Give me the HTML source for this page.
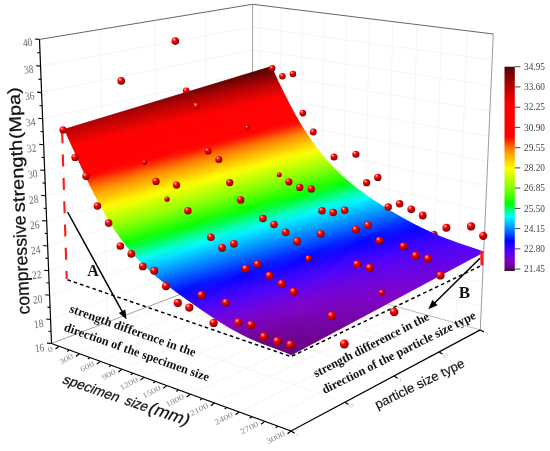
<!DOCTYPE html><html><head><meta charset="utf-8"><title>3D surface</title><style>html,body{margin:0;padding:0;background:#fff}svg{display:block}</style></head><body><svg width="550" height="451" viewBox="0 0 550 451"><defs><radialGradient id="b" cx="0.36" cy="0.32" r="0.7" fx="0.33" fy="0.28"><stop offset="0" stop-color="#ffe4dc"/><stop offset="0.17" stop-color="#ff5c4c"/><stop offset="0.42" stop-color="#f00000"/><stop offset="0.75" stop-color="#b80000"/><stop offset="1" stop-color="#640000"/></radialGradient><linearGradient id="cb" x1="0" y1="0" x2="0" y2="1"><stop offset="0.0000" stop-color="rgb(86,0,0)"/><stop offset="0.1000" stop-color="rgb(186,0,0)"/><stop offset="0.1889" stop-color="rgb(255,0,0)"/><stop offset="0.3444" stop-color="rgb(255,0,0)"/><stop offset="0.4037" stop-color="rgb(255,128,0)"/><stop offset="0.5000" stop-color="rgb(255,255,0)"/><stop offset="0.6000" stop-color="rgb(128,255,0)"/><stop offset="0.6704" stop-color="rgb(0,255,0)"/><stop offset="0.7370" stop-color="rgb(0,255,255)"/><stop offset="0.8000" stop-color="rgb(0,128,255)"/><stop offset="0.8556" stop-color="rgb(0,0,255)"/><stop offset="0.9000" stop-color="rgb(72,0,255)"/><stop offset="0.9519" stop-color="rgb(128,0,200)"/><stop offset="1.0000" stop-color="rgb(96,0,112)"/></linearGradient></defs><rect width="550" height="451" fill="#fff"/><g fill="none"><line x1="50.6" y1="319.5" x2="252.6" y2="245.8" stroke="#f1f1f1" stroke-width="0.7"/><line x1="252.6" y1="245.8" x2="481.4" y2="306.4" stroke="#f1f1f1" stroke-width="0.7"/><line x1="49.6" y1="295.2" x2="252.6" y2="224.7" stroke="#f1f1f1" stroke-width="0.7"/><line x1="252.6" y1="224.7" x2="482.4" y2="282.8" stroke="#f1f1f1" stroke-width="0.7"/><line x1="48.6" y1="270.7" x2="252.6" y2="203.5" stroke="#f1f1f1" stroke-width="0.7"/><line x1="252.6" y1="203.5" x2="483.4" y2="259" stroke="#f1f1f1" stroke-width="0.7"/><line x1="47.7" y1="246" x2="252.6" y2="182.1" stroke="#f1f1f1" stroke-width="0.7"/><line x1="252.6" y1="182.1" x2="484.5" y2="234.9" stroke="#f1f1f1" stroke-width="0.7"/><line x1="46.7" y1="221" x2="252.6" y2="160.5" stroke="#f1f1f1" stroke-width="0.7"/><line x1="252.6" y1="160.5" x2="485.6" y2="210.6" stroke="#f1f1f1" stroke-width="0.7"/><line x1="45.7" y1="195.8" x2="252.6" y2="138.7" stroke="#f1f1f1" stroke-width="0.7"/><line x1="252.6" y1="138.7" x2="486.6" y2="186.1" stroke="#f1f1f1" stroke-width="0.7"/><line x1="44.7" y1="170.4" x2="252.6" y2="116.8" stroke="#f1f1f1" stroke-width="0.7"/><line x1="252.6" y1="116.8" x2="487.7" y2="161.3" stroke="#f1f1f1" stroke-width="0.7"/><line x1="43.7" y1="144.7" x2="252.6" y2="94.6" stroke="#f1f1f1" stroke-width="0.7"/><line x1="252.6" y1="94.6" x2="488.8" y2="136.3" stroke="#f1f1f1" stroke-width="0.7"/><line x1="42.6" y1="118.8" x2="252.6" y2="72.3" stroke="#f1f1f1" stroke-width="0.7"/><line x1="252.6" y1="72.3" x2="489.9" y2="111.1" stroke="#f1f1f1" stroke-width="0.7"/><line x1="41.6" y1="92.6" x2="252.6" y2="49.8" stroke="#f1f1f1" stroke-width="0.7"/><line x1="252.6" y1="49.8" x2="491.1" y2="85.7" stroke="#f1f1f1" stroke-width="0.7"/><line x1="40.6" y1="66.1" x2="252.6" y2="27.1" stroke="#f1f1f1" stroke-width="0.7"/><line x1="252.6" y1="27.1" x2="492.2" y2="60" stroke="#f1f1f1" stroke-width="0.7"/><line x1="107.8" y1="322" x2="99.5" y2="29.5" stroke="#f1f1f1" stroke-width="0.7"/><line x1="107.8" y1="322" x2="344.9" y2="402.2" stroke="#f1f1f1" stroke-width="0.7"/><line x1="159.8" y1="302.2" x2="154.7" y2="20.4" stroke="#f1f1f1" stroke-width="0.7"/><line x1="159.8" y1="302.2" x2="394" y2="376" stroke="#f1f1f1" stroke-width="0.7"/><line x1="207.9" y1="283.8" x2="205.5" y2="12" stroke="#f1f1f1" stroke-width="0.7"/><line x1="207.9" y1="283.8" x2="439" y2="351.9" stroke="#f1f1f1" stroke-width="0.7"/><line x1="259.9" y1="268.7" x2="260.2" y2="5.2" stroke="#f1f1f1" stroke-width="0.7"/><line x1="59" y1="346.2" x2="259.9" y2="268.7" stroke="#f1f1f1" stroke-width="0.7"/><line x1="279.7" y1="274.2" x2="281" y2="7.8" stroke="#f1f1f1" stroke-width="0.7"/><line x1="79.4" y1="353.7" x2="279.7" y2="274.2" stroke="#f1f1f1" stroke-width="0.7"/><line x1="299.9" y1="279.8" x2="302.3" y2="10.4" stroke="#f1f1f1" stroke-width="0.7"/><line x1="100.3" y1="361.3" x2="299.9" y2="279.8" stroke="#f1f1f1" stroke-width="0.7"/><line x1="320.6" y1="285.6" x2="324.1" y2="13.1" stroke="#f1f1f1" stroke-width="0.7"/><line x1="121.9" y1="369.2" x2="320.6" y2="285.6" stroke="#f1f1f1" stroke-width="0.7"/><line x1="341.8" y1="291.4" x2="346.4" y2="15.9" stroke="#f1f1f1" stroke-width="0.7"/><line x1="144" y1="377.3" x2="341.8" y2="291.4" stroke="#f1f1f1" stroke-width="0.7"/><line x1="363.5" y1="297.4" x2="369.4" y2="18.7" stroke="#f1f1f1" stroke-width="0.7"/><line x1="166.8" y1="385.6" x2="363.5" y2="297.4" stroke="#f1f1f1" stroke-width="0.7"/><line x1="385.7" y1="303.6" x2="392.9" y2="21.6" stroke="#f1f1f1" stroke-width="0.7"/><line x1="190.2" y1="394.2" x2="385.7" y2="303.6" stroke="#f1f1f1" stroke-width="0.7"/><line x1="408.5" y1="309.9" x2="417" y2="24.6" stroke="#f1f1f1" stroke-width="0.7"/><line x1="214.3" y1="403" x2="408.5" y2="309.9" stroke="#f1f1f1" stroke-width="0.7"/><line x1="431.8" y1="316.4" x2="441.8" y2="27.7" stroke="#f1f1f1" stroke-width="0.7"/><line x1="239.1" y1="412" x2="431.8" y2="316.4" stroke="#f1f1f1" stroke-width="0.7"/><line x1="455.8" y1="323" x2="467.2" y2="30.8" stroke="#f1f1f1" stroke-width="0.7"/><line x1="264.7" y1="421.4" x2="455.8" y2="323" stroke="#f1f1f1" stroke-width="0.7"/><line x1="39.5" y1="39.4" x2="252.6" y2="4.3" stroke="#555" stroke-width="0.9"/><line x1="252.6" y1="4.3" x2="493.3" y2="34" stroke="#555" stroke-width="0.9"/><line x1="493.3" y1="34" x2="480.3" y2="329.9" stroke="#8a8a8a" stroke-width="0.85"/><line x1="252.6" y1="4.3" x2="252.6" y2="266.7" stroke="#9a9a9a" stroke-width="0.9"/><line x1="51.5" y1="343.5" x2="252.6" y2="266.7" stroke="#8a8a8a" stroke-width="0.8"/><line x1="252.6" y1="266.7" x2="480.3" y2="329.9" stroke="#a8a8a8" stroke-width="0.8"/></g><circle cx="434" cy="234.3" r="3.6" fill="url(#b)"/><defs><linearGradient id="s0" gradientUnits="userSpaceOnUse" x1="64.8" y1="130.3" x2="271.7" y2="67.5"><stop offset="0.000" stop-color="#b90000"/><stop offset="0.281" stop-color="#a10000"/><stop offset="0.540" stop-color="#840000"/><stop offset="0.779" stop-color="#680000"/><stop offset="1.000" stop-color="#500000"/></linearGradient><linearGradient id="s1" gradientUnits="userSpaceOnUse" x1="65.7" y1="132.2" x2="272.6" y2="69.4"><stop offset="0.000" stop-color="#c20000"/><stop offset="0.281" stop-color="#ae0000"/><stop offset="0.540" stop-color="#920000"/><stop offset="0.779" stop-color="#750000"/><stop offset="1.000" stop-color="#590000"/></linearGradient><linearGradient id="s2" gradientUnits="userSpaceOnUse" x1="66.6" y1="134.2" x2="273.4" y2="71.2"><stop offset="0.000" stop-color="#ca0000"/><stop offset="0.281" stop-color="#b80000"/><stop offset="0.540" stop-color="#9f0000"/><stop offset="0.779" stop-color="#830000"/><stop offset="1.000" stop-color="#670000"/></linearGradient><linearGradient id="s3" gradientUnits="userSpaceOnUse" x1="67.5" y1="136.2" x2="274.2" y2="73"><stop offset="0.000" stop-color="#d30000"/><stop offset="0.281" stop-color="#c10000"/><stop offset="0.540" stop-color="#ac0000"/><stop offset="0.779" stop-color="#910000"/><stop offset="1.000" stop-color="#750000"/></linearGradient><linearGradient id="s4" gradientUnits="userSpaceOnUse" x1="68.5" y1="138.2" x2="275.1" y2="74.9"><stop offset="0.000" stop-color="#dc0000"/><stop offset="0.281" stop-color="#ca0000"/><stop offset="0.540" stop-color="#b70000"/><stop offset="0.779" stop-color="#9e0000"/><stop offset="1.000" stop-color="#830000"/></linearGradient><linearGradient id="s5" gradientUnits="userSpaceOnUse" x1="69.4" y1="140.3" x2="275.9" y2="76.7"><stop offset="0.000" stop-color="#e50000"/><stop offset="0.281" stop-color="#d30000"/><stop offset="0.540" stop-color="#c00000"/><stop offset="0.779" stop-color="#ac0000"/><stop offset="1.000" stop-color="#910000"/></linearGradient><linearGradient id="s6" gradientUnits="userSpaceOnUse" x1="70.3" y1="142.3" x2="276.8" y2="78.5"><stop offset="0.000" stop-color="#ee0000"/><stop offset="0.281" stop-color="#dc0000"/><stop offset="0.540" stop-color="#ca0000"/><stop offset="0.779" stop-color="#b70000"/><stop offset="1.000" stop-color="#9f0000"/></linearGradient><linearGradient id="s7" gradientUnits="userSpaceOnUse" x1="71.3" y1="144.4" x2="277.6" y2="80.3"><stop offset="0.000" stop-color="#f70000"/><stop offset="0.281" stop-color="#e50000"/><stop offset="0.540" stop-color="#d30000"/><stop offset="0.779" stop-color="#c00000"/><stop offset="1.000" stop-color="#ac0000"/></linearGradient><linearGradient id="s8" gradientUnits="userSpaceOnUse" x1="72.2" y1="146.4" x2="278.4" y2="82.1"><stop offset="0.000" stop-color="#ff0000"/><stop offset="0.281" stop-color="#ee0000"/><stop offset="0.540" stop-color="#dc0000"/><stop offset="0.779" stop-color="#ca0000"/><stop offset="1.000" stop-color="#b70000"/></linearGradient><linearGradient id="s9" gradientUnits="userSpaceOnUse" x1="73.1" y1="148.5" x2="279.3" y2="83.8"><stop offset="0.000" stop-color="#ff0000"/><stop offset="0.281" stop-color="#f70000"/><stop offset="0.540" stop-color="#e50000"/><stop offset="0.779" stop-color="#d30000"/><stop offset="1.000" stop-color="#c10000"/></linearGradient><linearGradient id="s10" gradientUnits="userSpaceOnUse" x1="74.1" y1="150.5" x2="280.1" y2="85.6"><stop offset="0.000" stop-color="#ff0000"/><stop offset="0.281" stop-color="#ff0000"/><stop offset="0.540" stop-color="#ee0000"/><stop offset="0.779" stop-color="#dc0000"/><stop offset="1.000" stop-color="#ca0000"/></linearGradient><linearGradient id="s11" gradientUnits="userSpaceOnUse" x1="75" y1="152.6" x2="281" y2="87.4"><stop offset="0.000" stop-color="#ff0000"/><stop offset="0.281" stop-color="#ff0000"/><stop offset="0.540" stop-color="#f70000"/><stop offset="0.779" stop-color="#e50000"/><stop offset="1.000" stop-color="#d30000"/></linearGradient><linearGradient id="s12" gradientUnits="userSpaceOnUse" x1="75.9" y1="154.7" x2="281.8" y2="89.1"><stop offset="0.000" stop-color="#ff0000"/><stop offset="0.281" stop-color="#ff0000"/><stop offset="0.540" stop-color="#ff0000"/><stop offset="0.779" stop-color="#ee0000"/><stop offset="1.000" stop-color="#dc0000"/></linearGradient><linearGradient id="s13" gradientUnits="userSpaceOnUse" x1="76.9" y1="156.7" x2="282.7" y2="90.8"><stop offset="0.000" stop-color="#ff0000"/><stop offset="0.281" stop-color="#ff0000"/><stop offset="0.540" stop-color="#ff0000"/><stop offset="0.779" stop-color="#f70000"/><stop offset="1.000" stop-color="#e50000"/></linearGradient><linearGradient id="s14" gradientUnits="userSpaceOnUse" x1="77.8" y1="158.8" x2="283.5" y2="92.6"><stop offset="0.000" stop-color="#ff0000"/><stop offset="0.281" stop-color="#ff0000"/><stop offset="0.540" stop-color="#ff0000"/><stop offset="0.779" stop-color="#ff0000"/><stop offset="1.000" stop-color="#ee0000"/></linearGradient><linearGradient id="s15" gradientUnits="userSpaceOnUse" x1="78.8" y1="160.9" x2="284.4" y2="94.3"><stop offset="0.000" stop-color="#ff0000"/><stop offset="0.281" stop-color="#ff0000"/><stop offset="0.540" stop-color="#ff0000"/><stop offset="0.779" stop-color="#ff0000"/><stop offset="1.000" stop-color="#f70000"/></linearGradient><linearGradient id="s16" gradientUnits="userSpaceOnUse" x1="79.7" y1="162.9" x2="285.2" y2="96"><stop offset="0.000" stop-color="#ff0000"/><stop offset="0.281" stop-color="#ff0000"/><stop offset="0.540" stop-color="#ff0000"/><stop offset="0.779" stop-color="#ff0000"/><stop offset="1.000" stop-color="#ff0000"/></linearGradient><linearGradient id="s17" gradientUnits="userSpaceOnUse" x1="80.6" y1="165" x2="286" y2="97.6"><stop offset="0.000" stop-color="#ff0000"/><stop offset="0.281" stop-color="#ff0000"/><stop offset="0.540" stop-color="#ff0000"/><stop offset="0.779" stop-color="#ff0000"/><stop offset="1.000" stop-color="#ff0000"/></linearGradient><linearGradient id="s18" gradientUnits="userSpaceOnUse" x1="81.6" y1="167" x2="286.9" y2="99.3"><stop offset="0.000" stop-color="#ff0000"/><stop offset="0.281" stop-color="#ff0000"/><stop offset="0.540" stop-color="#ff0000"/><stop offset="0.779" stop-color="#ff0000"/><stop offset="1.000" stop-color="#ff0000"/></linearGradient><linearGradient id="s19" gradientUnits="userSpaceOnUse" x1="82.5" y1="169" x2="287.7" y2="101"><stop offset="0.000" stop-color="#ff0000"/><stop offset="0.281" stop-color="#ff0000"/><stop offset="0.540" stop-color="#ff0000"/><stop offset="0.779" stop-color="#ff0000"/><stop offset="1.000" stop-color="#ff0000"/></linearGradient><linearGradient id="s20" gradientUnits="userSpaceOnUse" x1="83.4" y1="171.1" x2="288.6" y2="102.6"><stop offset="0.000" stop-color="#ff0000"/><stop offset="0.281" stop-color="#ff0000"/><stop offset="0.540" stop-color="#ff0000"/><stop offset="0.779" stop-color="#ff0000"/><stop offset="1.000" stop-color="#ff0000"/></linearGradient><linearGradient id="s21" gradientUnits="userSpaceOnUse" x1="84.4" y1="173.1" x2="289.4" y2="104.2"><stop offset="0.000" stop-color="#ff0000"/><stop offset="0.282" stop-color="#ff0000"/><stop offset="0.540" stop-color="#ff0000"/><stop offset="0.779" stop-color="#ff0000"/><stop offset="1.000" stop-color="#ff0000"/></linearGradient><linearGradient id="s22" gradientUnits="userSpaceOnUse" x1="85.3" y1="175.1" x2="290.3" y2="105.8"><stop offset="0.000" stop-color="#ff0000"/><stop offset="0.282" stop-color="#ff0000"/><stop offset="0.540" stop-color="#ff0000"/><stop offset="0.779" stop-color="#ff0000"/><stop offset="1.000" stop-color="#ff0000"/></linearGradient><linearGradient id="s23" gradientUnits="userSpaceOnUse" x1="86.2" y1="177.1" x2="291.1" y2="107.4"><stop offset="0.000" stop-color="#ff0100"/><stop offset="0.282" stop-color="#ff0000"/><stop offset="0.540" stop-color="#ff0000"/><stop offset="0.779" stop-color="#ff0000"/><stop offset="1.000" stop-color="#ff0000"/></linearGradient><linearGradient id="s24" gradientUnits="userSpaceOnUse" x1="87.2" y1="179" x2="292" y2="109"><stop offset="0.000" stop-color="#ff1700"/><stop offset="0.282" stop-color="#ff0000"/><stop offset="0.540" stop-color="#ff0000"/><stop offset="0.779" stop-color="#ff0000"/><stop offset="1.000" stop-color="#ff0000"/></linearGradient><linearGradient id="s25" gradientUnits="userSpaceOnUse" x1="88.1" y1="181" x2="292.8" y2="110.6"><stop offset="0.000" stop-color="#ff2c00"/><stop offset="0.282" stop-color="#ff0000"/><stop offset="0.540" stop-color="#ff0000"/><stop offset="0.779" stop-color="#ff0000"/><stop offset="1.000" stop-color="#ff0000"/></linearGradient><linearGradient id="s26" gradientUnits="userSpaceOnUse" x1="89.1" y1="183" x2="293.7" y2="112.1"><stop offset="0.000" stop-color="#ff4100"/><stop offset="0.282" stop-color="#ff1000"/><stop offset="0.540" stop-color="#ff0000"/><stop offset="0.779" stop-color="#ff0000"/><stop offset="1.000" stop-color="#ff0000"/></linearGradient><linearGradient id="s27" gradientUnits="userSpaceOnUse" x1="90" y1="184.9" x2="294.5" y2="113.7"><stop offset="0.000" stop-color="#ff5600"/><stop offset="0.282" stop-color="#ff2500"/><stop offset="0.540" stop-color="#ff0000"/><stop offset="0.779" stop-color="#ff0000"/><stop offset="1.000" stop-color="#ff0000"/></linearGradient><linearGradient id="s28" gradientUnits="userSpaceOnUse" x1="90.9" y1="186.8" x2="295.4" y2="115.2"><stop offset="0.000" stop-color="#ff6b00"/><stop offset="0.282" stop-color="#ff3900"/><stop offset="0.540" stop-color="#ff0800"/><stop offset="0.779" stop-color="#ff0000"/><stop offset="1.000" stop-color="#ff0000"/></linearGradient><linearGradient id="s29" gradientUnits="userSpaceOnUse" x1="91.9" y1="188.7" x2="296.2" y2="116.7"><stop offset="0.000" stop-color="#ff7f00"/><stop offset="0.282" stop-color="#ff4d00"/><stop offset="0.540" stop-color="#ff1c00"/><stop offset="0.779" stop-color="#ff0000"/><stop offset="1.000" stop-color="#ff0000"/></linearGradient><linearGradient id="s30" gradientUnits="userSpaceOnUse" x1="92.8" y1="190.6" x2="297.1" y2="118.2"><stop offset="0.000" stop-color="#ff8c00"/><stop offset="0.282" stop-color="#ff6100"/><stop offset="0.540" stop-color="#ff2f00"/><stop offset="0.779" stop-color="#ff0000"/><stop offset="1.000" stop-color="#ff0000"/></linearGradient><linearGradient id="s31" gradientUnits="userSpaceOnUse" x1="93.7" y1="192.5" x2="297.9" y2="119.7"><stop offset="0.000" stop-color="#ff9800"/><stop offset="0.282" stop-color="#ff7500"/><stop offset="0.540" stop-color="#ff4300"/><stop offset="0.779" stop-color="#ff1100"/><stop offset="1.000" stop-color="#ff0000"/></linearGradient><linearGradient id="s32" gradientUnits="userSpaceOnUse" x1="94.7" y1="194.4" x2="298.8" y2="121.1"><stop offset="0.000" stop-color="#ffa400"/><stop offset="0.282" stop-color="#ff8500"/><stop offset="0.540" stop-color="#ff5600"/><stop offset="0.779" stop-color="#ff2400"/><stop offset="1.000" stop-color="#ff0000"/></linearGradient><linearGradient id="s33" gradientUnits="userSpaceOnUse" x1="95.6" y1="196.2" x2="299.6" y2="122.6"><stop offset="0.000" stop-color="#ffb000"/><stop offset="0.282" stop-color="#ff9100"/><stop offset="0.540" stop-color="#ff6900"/><stop offset="0.779" stop-color="#ff3600"/><stop offset="1.000" stop-color="#ff0400"/></linearGradient><linearGradient id="s34" gradientUnits="userSpaceOnUse" x1="96.5" y1="198" x2="300.5" y2="124"><stop offset="0.000" stop-color="#ffbc00"/><stop offset="0.282" stop-color="#ff9c00"/><stop offset="0.540" stop-color="#ff7b00"/><stop offset="0.779" stop-color="#ff4800"/><stop offset="1.000" stop-color="#ff1600"/></linearGradient><linearGradient id="s35" gradientUnits="userSpaceOnUse" x1="97.5" y1="199.8" x2="301.4" y2="125.4"><stop offset="0.000" stop-color="#ffc800"/><stop offset="0.282" stop-color="#ffa800"/><stop offset="0.540" stop-color="#ff8800"/><stop offset="0.779" stop-color="#ff5b00"/><stop offset="1.000" stop-color="#ff2800"/></linearGradient><linearGradient id="s36" gradientUnits="userSpaceOnUse" x1="98.4" y1="201.6" x2="302.2" y2="126.8"><stop offset="0.000" stop-color="#ffd300"/><stop offset="0.282" stop-color="#ffb300"/><stop offset="0.540" stop-color="#ff9300"/><stop offset="0.779" stop-color="#ff6c00"/><stop offset="1.000" stop-color="#ff3900"/></linearGradient><linearGradient id="s37" gradientUnits="userSpaceOnUse" x1="99.4" y1="203.4" x2="303.1" y2="128.2"><stop offset="0.000" stop-color="#ffdf00"/><stop offset="0.282" stop-color="#ffbe00"/><stop offset="0.540" stop-color="#ff9e00"/><stop offset="0.779" stop-color="#ff7e00"/><stop offset="1.000" stop-color="#ff4b00"/></linearGradient><linearGradient id="s38" gradientUnits="userSpaceOnUse" x1="100.3" y1="205.1" x2="303.9" y2="129.6"><stop offset="0.000" stop-color="#ffea00"/><stop offset="0.282" stop-color="#ffc900"/><stop offset="0.540" stop-color="#ffa900"/><stop offset="0.779" stop-color="#ff8900"/><stop offset="1.000" stop-color="#ff5c00"/></linearGradient><linearGradient id="s39" gradientUnits="userSpaceOnUse" x1="101.2" y1="206.8" x2="304.8" y2="130.9"><stop offset="0.000" stop-color="#fff500"/><stop offset="0.282" stop-color="#ffd400"/><stop offset="0.540" stop-color="#ffb400"/><stop offset="0.779" stop-color="#ff9400"/><stop offset="1.000" stop-color="#ff6c00"/></linearGradient><linearGradient id="s40" gradientUnits="userSpaceOnUse" x1="102.2" y1="208.5" x2="305.6" y2="132.3"><stop offset="0.000" stop-color="#feff00"/><stop offset="0.282" stop-color="#ffdf00"/><stop offset="0.540" stop-color="#ffbf00"/><stop offset="0.779" stop-color="#ff9e00"/><stop offset="1.000" stop-color="#ff7d00"/></linearGradient><linearGradient id="s41" gradientUnits="userSpaceOnUse" x1="103.1" y1="210.2" x2="306.5" y2="133.6"><stop offset="0.000" stop-color="#f4ff00"/><stop offset="0.282" stop-color="#ffea00"/><stop offset="0.540" stop-color="#ffc900"/><stop offset="0.779" stop-color="#ffa800"/><stop offset="1.000" stop-color="#ff8800"/></linearGradient><linearGradient id="s42" gradientUnits="userSpaceOnUse" x1="104" y1="211.9" x2="307.4" y2="134.9"><stop offset="0.000" stop-color="#e9ff00"/><stop offset="0.282" stop-color="#fff400"/><stop offset="0.540" stop-color="#ffd300"/><stop offset="0.779" stop-color="#ffb200"/><stop offset="1.000" stop-color="#ff9200"/></linearGradient><linearGradient id="s43" gradientUnits="userSpaceOnUse" x1="105" y1="213.5" x2="308.2" y2="136.2"><stop offset="0.000" stop-color="#dfff00"/><stop offset="0.282" stop-color="#fffe00"/><stop offset="0.540" stop-color="#ffdd00"/><stop offset="0.779" stop-color="#ffbc00"/><stop offset="1.000" stop-color="#ff9c00"/></linearGradient><linearGradient id="s44" gradientUnits="userSpaceOnUse" x1="105.9" y1="215.1" x2="309.1" y2="137.5"><stop offset="0.000" stop-color="#d5ff00"/><stop offset="0.282" stop-color="#f6ff00"/><stop offset="0.540" stop-color="#ffe700"/><stop offset="0.779" stop-color="#ffc600"/><stop offset="1.000" stop-color="#ffa500"/></linearGradient><linearGradient id="s45" gradientUnits="userSpaceOnUse" x1="106.8" y1="216.8" x2="309.9" y2="138.7"><stop offset="0.000" stop-color="#ccff00"/><stop offset="0.282" stop-color="#ecff00"/><stop offset="0.540" stop-color="#fff100"/><stop offset="0.779" stop-color="#ffd000"/><stop offset="1.000" stop-color="#ffaf00"/></linearGradient><linearGradient id="s46" gradientUnits="userSpaceOnUse" x1="107.8" y1="218.3" x2="310.8" y2="140"><stop offset="0.000" stop-color="#c2ff00"/><stop offset="0.282" stop-color="#e3ff00"/><stop offset="0.540" stop-color="#fffb00"/><stop offset="0.779" stop-color="#ffd900"/><stop offset="1.000" stop-color="#ffb800"/></linearGradient><linearGradient id="s47" gradientUnits="userSpaceOnUse" x1="108.7" y1="219.9" x2="311.7" y2="141.2"><stop offset="0.000" stop-color="#b9ff00"/><stop offset="0.282" stop-color="#d9ff00"/><stop offset="0.540" stop-color="#faff00"/><stop offset="0.779" stop-color="#ffe300"/><stop offset="1.000" stop-color="#ffc100"/></linearGradient><linearGradient id="s48" gradientUnits="userSpaceOnUse" x1="109.7" y1="221.4" x2="312.5" y2="142.4"><stop offset="0.000" stop-color="#afff00"/><stop offset="0.282" stop-color="#d0ff00"/><stop offset="0.540" stop-color="#f1ff00"/><stop offset="0.779" stop-color="#ffec00"/><stop offset="1.000" stop-color="#ffca00"/></linearGradient><linearGradient id="s49" gradientUnits="userSpaceOnUse" x1="110.6" y1="223" x2="313.4" y2="143.7"><stop offset="0.000" stop-color="#a6ff00"/><stop offset="0.282" stop-color="#c7ff00"/><stop offset="0.540" stop-color="#e8ff00"/><stop offset="0.779" stop-color="#fff500"/><stop offset="1.000" stop-color="#ffd300"/></linearGradient><linearGradient id="s50" gradientUnits="userSpaceOnUse" x1="111.5" y1="224.5" x2="314.3" y2="144.8"><stop offset="0.000" stop-color="#9dff00"/><stop offset="0.282" stop-color="#beff00"/><stop offset="0.540" stop-color="#dfff00"/><stop offset="0.779" stop-color="#fffe00"/><stop offset="1.000" stop-color="#ffdc00"/></linearGradient><linearGradient id="s51" gradientUnits="userSpaceOnUse" x1="112.5" y1="225.9" x2="315.1" y2="146"><stop offset="0.000" stop-color="#94ff00"/><stop offset="0.282" stop-color="#b6ff00"/><stop offset="0.540" stop-color="#d7ff00"/><stop offset="0.779" stop-color="#f8ff00"/><stop offset="1.000" stop-color="#ffe400"/></linearGradient><linearGradient id="s52" gradientUnits="userSpaceOnUse" x1="113.4" y1="227.4" x2="316" y2="147.2"><stop offset="0.000" stop-color="#8cff00"/><stop offset="0.282" stop-color="#adff00"/><stop offset="0.540" stop-color="#ceff00"/><stop offset="0.779" stop-color="#efff00"/><stop offset="1.000" stop-color="#ffed00"/></linearGradient><linearGradient id="s53" gradientUnits="userSpaceOnUse" x1="114.3" y1="228.8" x2="316.9" y2="148.3"><stop offset="0.000" stop-color="#83ff00"/><stop offset="0.282" stop-color="#a5ff00"/><stop offset="0.540" stop-color="#c6ff00"/><stop offset="0.779" stop-color="#e7ff00"/><stop offset="1.000" stop-color="#fff500"/></linearGradient><linearGradient id="s54" gradientUnits="userSpaceOnUse" x1="115.3" y1="230.3" x2="317.7" y2="149.5"><stop offset="0.000" stop-color="#79ff00"/><stop offset="0.282" stop-color="#9cff00"/><stop offset="0.540" stop-color="#beff00"/><stop offset="0.779" stop-color="#dfff00"/><stop offset="1.000" stop-color="#fffe00"/></linearGradient><linearGradient id="s55" gradientUnits="userSpaceOnUse" x1="116.2" y1="231.7" x2="318.6" y2="150.6"><stop offset="0.000" stop-color="#6dff00"/><stop offset="0.282" stop-color="#94ff00"/><stop offset="0.540" stop-color="#b6ff00"/><stop offset="0.779" stop-color="#d7ff00"/><stop offset="1.000" stop-color="#f8ff00"/></linearGradient><linearGradient id="s56" gradientUnits="userSpaceOnUse" x1="117.1" y1="233" x2="319.5" y2="151.7"><stop offset="0.000" stop-color="#61ff00"/><stop offset="0.282" stop-color="#8cff00"/><stop offset="0.540" stop-color="#aeff00"/><stop offset="0.779" stop-color="#cfff00"/><stop offset="1.000" stop-color="#f1ff00"/></linearGradient><linearGradient id="s57" gradientUnits="userSpaceOnUse" x1="118.1" y1="234.4" x2="320.3" y2="152.8"><stop offset="0.000" stop-color="#56ff00"/><stop offset="0.282" stop-color="#84ff00"/><stop offset="0.540" stop-color="#a6ff00"/><stop offset="0.779" stop-color="#c8ff00"/><stop offset="1.000" stop-color="#e9ff00"/></linearGradient><linearGradient id="s58" gradientUnits="userSpaceOnUse" x1="119" y1="235.7" x2="321.2" y2="153.9"><stop offset="0.000" stop-color="#4bff00"/><stop offset="0.282" stop-color="#7bff00"/><stop offset="0.540" stop-color="#9eff00"/><stop offset="0.779" stop-color="#c0ff00"/><stop offset="1.000" stop-color="#e2ff00"/></linearGradient><linearGradient id="s59" gradientUnits="userSpaceOnUse" x1="120" y1="237.1" x2="322.1" y2="154.9"><stop offset="0.000" stop-color="#40ff00"/><stop offset="0.282" stop-color="#70ff00"/><stop offset="0.540" stop-color="#97ff00"/><stop offset="0.779" stop-color="#b9ff00"/><stop offset="1.000" stop-color="#daff00"/></linearGradient><linearGradient id="s60" gradientUnits="userSpaceOnUse" x1="120.9" y1="238.4" x2="322.9" y2="156"><stop offset="0.000" stop-color="#35ff00"/><stop offset="0.282" stop-color="#66ff00"/><stop offset="0.541" stop-color="#90ff00"/><stop offset="0.779" stop-color="#b1ff00"/><stop offset="1.000" stop-color="#d3ff00"/></linearGradient><linearGradient id="s61" gradientUnits="userSpaceOnUse" x1="121.8" y1="239.6" x2="323.8" y2="157"><stop offset="0.000" stop-color="#2bff00"/><stop offset="0.282" stop-color="#5bff00"/><stop offset="0.541" stop-color="#88ff00"/><stop offset="0.779" stop-color="#aaff00"/><stop offset="1.000" stop-color="#ccff00"/></linearGradient><linearGradient id="s62" gradientUnits="userSpaceOnUse" x1="122.8" y1="240.9" x2="324.7" y2="158.1"><stop offset="0.000" stop-color="#20ff00"/><stop offset="0.282" stop-color="#51ff00"/><stop offset="0.541" stop-color="#81ff00"/><stop offset="0.779" stop-color="#a3ff00"/><stop offset="1.000" stop-color="#c5ff00"/></linearGradient><linearGradient id="s63" gradientUnits="userSpaceOnUse" x1="123.7" y1="242.1" x2="325.6" y2="159.1"><stop offset="0.000" stop-color="#16ff00"/><stop offset="0.282" stop-color="#47ff00"/><stop offset="0.541" stop-color="#78ff00"/><stop offset="0.779" stop-color="#9cff00"/><stop offset="1.000" stop-color="#beff00"/></linearGradient><linearGradient id="s64" gradientUnits="userSpaceOnUse" x1="124.6" y1="243.4" x2="326.4" y2="160.1"><stop offset="0.000" stop-color="#0cff00"/><stop offset="0.282" stop-color="#3dff00"/><stop offset="0.541" stop-color="#6eff00"/><stop offset="0.779" stop-color="#95ff00"/><stop offset="1.000" stop-color="#b7ff00"/></linearGradient><linearGradient id="s65" gradientUnits="userSpaceOnUse" x1="125.6" y1="244.6" x2="327.3" y2="161.1"><stop offset="0.000" stop-color="#03ff00"/><stop offset="0.282" stop-color="#33ff00"/><stop offset="0.541" stop-color="#64ff00"/><stop offset="0.779" stop-color="#8eff00"/><stop offset="1.000" stop-color="#b0ff00"/></linearGradient><linearGradient id="s66" gradientUnits="userSpaceOnUse" x1="126.5" y1="245.8" x2="328.2" y2="162.1"><stop offset="0.000" stop-color="#00ff0f"/><stop offset="0.282" stop-color="#2aff00"/><stop offset="0.541" stop-color="#5bff00"/><stop offset="0.779" stop-color="#88ff00"/><stop offset="1.000" stop-color="#aaff00"/></linearGradient><linearGradient id="s67" gradientUnits="userSpaceOnUse" x1="127.5" y1="247" x2="329.1" y2="163"><stop offset="0.000" stop-color="#00ff22"/><stop offset="0.282" stop-color="#20ff00"/><stop offset="0.541" stop-color="#51ff00"/><stop offset="0.779" stop-color="#81ff00"/><stop offset="1.000" stop-color="#a3ff00"/></linearGradient><linearGradient id="s68" gradientUnits="userSpaceOnUse" x1="128.4" y1="248.1" x2="330" y2="164"><stop offset="0.000" stop-color="#00ff36"/><stop offset="0.282" stop-color="#17ff00"/><stop offset="0.541" stop-color="#48ff00"/><stop offset="0.779" stop-color="#79ff00"/><stop offset="1.000" stop-color="#9dff00"/></linearGradient><linearGradient id="s69" gradientUnits="userSpaceOnUse" x1="129.3" y1="249.3" x2="330.8" y2="164.9"><stop offset="0.000" stop-color="#00ff49"/><stop offset="0.282" stop-color="#0eff00"/><stop offset="0.541" stop-color="#3fff00"/><stop offset="0.779" stop-color="#70ff00"/><stop offset="1.000" stop-color="#97ff00"/></linearGradient><linearGradient id="s70" gradientUnits="userSpaceOnUse" x1="130.3" y1="250.4" x2="331.7" y2="165.9"><stop offset="0.000" stop-color="#00ff5b"/><stop offset="0.282" stop-color="#05ff00"/><stop offset="0.541" stop-color="#36ff00"/><stop offset="0.779" stop-color="#67ff00"/><stop offset="1.000" stop-color="#90ff00"/></linearGradient><linearGradient id="s71" gradientUnits="userSpaceOnUse" x1="131.2" y1="251.5" x2="332.6" y2="166.8"><stop offset="0.000" stop-color="#00ff6d"/><stop offset="0.282" stop-color="#00ff07"/><stop offset="0.541" stop-color="#2dff00"/><stop offset="0.779" stop-color="#5eff00"/><stop offset="1.000" stop-color="#8aff00"/></linearGradient><linearGradient id="s72" gradientUnits="userSpaceOnUse" x1="132.2" y1="252.6" x2="333.5" y2="167.7"><stop offset="0.000" stop-color="#00ff7f"/><stop offset="0.282" stop-color="#00ff19"/><stop offset="0.541" stop-color="#25ff00"/><stop offset="0.779" stop-color="#55ff00"/><stop offset="1.000" stop-color="#84ff00"/></linearGradient><linearGradient id="s73" gradientUnits="userSpaceOnUse" x1="133.1" y1="253.7" x2="334.4" y2="168.6"><stop offset="0.000" stop-color="#00ff91"/><stop offset="0.282" stop-color="#00ff2a"/><stop offset="0.541" stop-color="#1cff00"/><stop offset="0.779" stop-color="#4dff00"/><stop offset="1.000" stop-color="#7eff00"/></linearGradient><linearGradient id="s74" gradientUnits="userSpaceOnUse" x1="134" y1="254.7" x2="335.2" y2="169.5"><stop offset="0.000" stop-color="#00ffa2"/><stop offset="0.282" stop-color="#00ff3c"/><stop offset="0.541" stop-color="#14ff00"/><stop offset="0.779" stop-color="#45ff00"/><stop offset="1.000" stop-color="#75ff00"/></linearGradient><linearGradient id="s75" gradientUnits="userSpaceOnUse" x1="135" y1="255.8" x2="336.1" y2="170.4"><stop offset="0.000" stop-color="#00ffb2"/><stop offset="0.282" stop-color="#00ff4d"/><stop offset="0.541" stop-color="#0cff00"/><stop offset="0.779" stop-color="#3cff00"/><stop offset="1.000" stop-color="#6dff00"/></linearGradient><linearGradient id="s76" gradientUnits="userSpaceOnUse" x1="135.9" y1="256.8" x2="337" y2="171.2"><stop offset="0.000" stop-color="#00ffc3"/><stop offset="0.282" stop-color="#00ff5d"/><stop offset="0.541" stop-color="#04ff00"/><stop offset="0.779" stop-color="#34ff00"/><stop offset="1.000" stop-color="#65ff00"/></linearGradient><linearGradient id="s77" gradientUnits="userSpaceOnUse" x1="136.9" y1="257.8" x2="337.9" y2="172.1"><stop offset="0.000" stop-color="#00ffd3"/><stop offset="0.282" stop-color="#00ff6e"/><stop offset="0.541" stop-color="#00ff08"/><stop offset="0.779" stop-color="#2dff00"/><stop offset="1.000" stop-color="#5dff00"/></linearGradient><linearGradient id="s78" gradientUnits="userSpaceOnUse" x1="137.8" y1="258.8" x2="338.8" y2="173"><stop offset="0.000" stop-color="#00ffe3"/><stop offset="0.282" stop-color="#00ff7e"/><stop offset="0.541" stop-color="#00ff18"/><stop offset="0.779" stop-color="#25ff00"/><stop offset="1.000" stop-color="#55ff00"/></linearGradient><linearGradient id="s79" gradientUnits="userSpaceOnUse" x1="138.8" y1="259.8" x2="339.7" y2="173.8"><stop offset="0.000" stop-color="#00fff2"/><stop offset="0.282" stop-color="#00ff8d"/><stop offset="0.541" stop-color="#00ff28"/><stop offset="0.779" stop-color="#1dff00"/><stop offset="1.000" stop-color="#4dff00"/></linearGradient><linearGradient id="s80" gradientUnits="userSpaceOnUse" x1="139.7" y1="260.8" x2="340.6" y2="174.6"><stop offset="0.000" stop-color="#00feff"/><stop offset="0.282" stop-color="#00ff9d"/><stop offset="0.541" stop-color="#00ff38"/><stop offset="0.779" stop-color="#16ff00"/><stop offset="1.000" stop-color="#46ff00"/></linearGradient><linearGradient id="s81" gradientUnits="userSpaceOnUse" x1="140.6" y1="261.8" x2="341.4" y2="175.5"><stop offset="0.000" stop-color="#00f6ff"/><stop offset="0.282" stop-color="#00ffac"/><stop offset="0.541" stop-color="#00ff47"/><stop offset="0.779" stop-color="#0eff00"/><stop offset="1.000" stop-color="#3eff00"/></linearGradient><linearGradient id="s82" gradientUnits="userSpaceOnUse" x1="141.6" y1="262.7" x2="342.3" y2="176.3"><stop offset="0.000" stop-color="#00eeff"/><stop offset="0.282" stop-color="#00ffbb"/><stop offset="0.541" stop-color="#00ff56"/><stop offset="0.779" stop-color="#07ff00"/><stop offset="1.000" stop-color="#37ff00"/></linearGradient><linearGradient id="s83" gradientUnits="userSpaceOnUse" x1="142.5" y1="263.7" x2="343.2" y2="177.1"><stop offset="0.000" stop-color="#00e7ff"/><stop offset="0.282" stop-color="#00ffc9"/><stop offset="0.541" stop-color="#00ff65"/><stop offset="0.779" stop-color="#00ff01"/><stop offset="1.000" stop-color="#2fff00"/></linearGradient><linearGradient id="s84" gradientUnits="userSpaceOnUse" x1="143.5" y1="264.6" x2="344.1" y2="177.9"><stop offset="0.000" stop-color="#00dfff"/><stop offset="0.282" stop-color="#00ffd8"/><stop offset="0.541" stop-color="#00ff74"/><stop offset="0.779" stop-color="#00ff10"/><stop offset="1.000" stop-color="#28ff00"/></linearGradient><linearGradient id="s85" gradientUnits="userSpaceOnUse" x1="144.4" y1="265.5" x2="345" y2="178.7"><stop offset="0.000" stop-color="#00d8ff"/><stop offset="0.282" stop-color="#00ffe6"/><stop offset="0.541" stop-color="#00ff82"/><stop offset="0.779" stop-color="#00ff1e"/><stop offset="1.000" stop-color="#21ff00"/></linearGradient><linearGradient id="s86" gradientUnits="userSpaceOnUse" x1="145.4" y1="266.4" x2="345.9" y2="179.5"><stop offset="0.000" stop-color="#00d1ff"/><stop offset="0.282" stop-color="#00fff3"/><stop offset="0.541" stop-color="#00ff90"/><stop offset="0.779" stop-color="#00ff2d"/><stop offset="1.000" stop-color="#1aff00"/></linearGradient><linearGradient id="s87" gradientUnits="userSpaceOnUse" x1="146.3" y1="267.3" x2="346.8" y2="180.2"><stop offset="0.000" stop-color="#00caff"/><stop offset="0.282" stop-color="#00feff"/><stop offset="0.541" stop-color="#00ff9e"/><stop offset="0.779" stop-color="#00ff3b"/><stop offset="1.000" stop-color="#13ff00"/></linearGradient><linearGradient id="s88" gradientUnits="userSpaceOnUse" x1="147.3" y1="268.2" x2="347.7" y2="181"><stop offset="0.000" stop-color="#00c3ff"/><stop offset="0.282" stop-color="#00f7ff"/><stop offset="0.541" stop-color="#00ffac"/><stop offset="0.779" stop-color="#00ff49"/><stop offset="1.000" stop-color="#0dff00"/></linearGradient><linearGradient id="s89" gradientUnits="userSpaceOnUse" x1="148.2" y1="269.1" x2="348.6" y2="181.8"><stop offset="0.000" stop-color="#00bcff"/><stop offset="0.282" stop-color="#00f0ff"/><stop offset="0.541" stop-color="#00ffb9"/><stop offset="0.779" stop-color="#00ff56"/><stop offset="1.000" stop-color="#06ff00"/></linearGradient><linearGradient id="s90" gradientUnits="userSpaceOnUse" x1="149.2" y1="269.9" x2="349.5" y2="182.5"><stop offset="0.000" stop-color="#00b5ff"/><stop offset="0.282" stop-color="#00e9ff"/><stop offset="0.541" stop-color="#00ffc6"/><stop offset="0.779" stop-color="#00ff64"/><stop offset="1.000" stop-color="#00ff02"/></linearGradient><linearGradient id="s91" gradientUnits="userSpaceOnUse" x1="150.1" y1="270.8" x2="350.4" y2="183.3"><stop offset="0.000" stop-color="#00afff"/><stop offset="0.282" stop-color="#00e2ff"/><stop offset="0.541" stop-color="#00ffd3"/><stop offset="0.779" stop-color="#00ff71"/><stop offset="1.000" stop-color="#00ff0f"/></linearGradient><linearGradient id="s92" gradientUnits="userSpaceOnUse" x1="151.1" y1="271.6" x2="351.3" y2="184"><stop offset="0.000" stop-color="#00a8ff"/><stop offset="0.282" stop-color="#00dcff"/><stop offset="0.541" stop-color="#00ffe0"/><stop offset="0.779" stop-color="#00ff7f"/><stop offset="1.000" stop-color="#00ff1d"/></linearGradient><linearGradient id="s93" gradientUnits="userSpaceOnUse" x1="152" y1="272.5" x2="352.2" y2="184.7"><stop offset="0.000" stop-color="#00a2ff"/><stop offset="0.282" stop-color="#00d5ff"/><stop offset="0.541" stop-color="#00ffed"/><stop offset="0.780" stop-color="#00ff8c"/><stop offset="1.000" stop-color="#00ff2a"/></linearGradient><linearGradient id="s94" gradientUnits="userSpaceOnUse" x1="153" y1="273.3" x2="353.1" y2="185.5"><stop offset="0.000" stop-color="#009cff"/><stop offset="0.282" stop-color="#00cfff"/><stop offset="0.541" stop-color="#00fff9"/><stop offset="0.780" stop-color="#00ff98"/><stop offset="1.000" stop-color="#00ff37"/></linearGradient><linearGradient id="s95" gradientUnits="userSpaceOnUse" x1="153.9" y1="274.1" x2="354" y2="186.2"><stop offset="0.000" stop-color="#0096ff"/><stop offset="0.282" stop-color="#00c9ff"/><stop offset="0.541" stop-color="#00fcff"/><stop offset="0.780" stop-color="#00ffa5"/><stop offset="1.000" stop-color="#00ff44"/></linearGradient><linearGradient id="s96" gradientUnits="userSpaceOnUse" x1="154.9" y1="274.9" x2="354.9" y2="186.9"><stop offset="0.000" stop-color="#0090ff"/><stop offset="0.282" stop-color="#00c2ff"/><stop offset="0.541" stop-color="#00f5ff"/><stop offset="0.780" stop-color="#00ffb1"/><stop offset="1.000" stop-color="#00ff51"/></linearGradient><linearGradient id="s97" gradientUnits="userSpaceOnUse" x1="155.9" y1="275.8" x2="355.8" y2="187.6"><stop offset="0.000" stop-color="#008aff"/><stop offset="0.282" stop-color="#00bcff"/><stop offset="0.541" stop-color="#00efff"/><stop offset="0.780" stop-color="#00ffbe"/><stop offset="1.000" stop-color="#00ff5d"/></linearGradient><linearGradient id="s98" gradientUnits="userSpaceOnUse" x1="156.8" y1="276.6" x2="356.7" y2="188.3"><stop offset="0.000" stop-color="#0084ff"/><stop offset="0.282" stop-color="#00b6ff"/><stop offset="0.541" stop-color="#00e9ff"/><stop offset="0.780" stop-color="#00ffca"/><stop offset="1.000" stop-color="#00ff6a"/></linearGradient><linearGradient id="s99" gradientUnits="userSpaceOnUse" x1="157.8" y1="277.4" x2="357.6" y2="189"><stop offset="0.000" stop-color="#007eff"/><stop offset="0.282" stop-color="#00b0ff"/><stop offset="0.541" stop-color="#00e3ff"/><stop offset="0.780" stop-color="#00ffd6"/><stop offset="1.000" stop-color="#00ff76"/></linearGradient><linearGradient id="s100" gradientUnits="userSpaceOnUse" x1="158.7" y1="278.1" x2="358.5" y2="189.7"><stop offset="0.000" stop-color="#0078ff"/><stop offset="0.282" stop-color="#00abff"/><stop offset="0.541" stop-color="#00ddff"/><stop offset="0.780" stop-color="#00ffe1"/><stop offset="1.000" stop-color="#00ff82"/></linearGradient><linearGradient id="s101" gradientUnits="userSpaceOnUse" x1="159.7" y1="278.9" x2="359.4" y2="190.4"><stop offset="0.000" stop-color="#0071ff"/><stop offset="0.282" stop-color="#00a5ff"/><stop offset="0.541" stop-color="#00d7ff"/><stop offset="0.780" stop-color="#00ffed"/><stop offset="1.000" stop-color="#00ff8e"/></linearGradient><linearGradient id="s102" gradientUnits="userSpaceOnUse" x1="160.6" y1="279.7" x2="360.3" y2="191.1"><stop offset="0.000" stop-color="#006bff"/><stop offset="0.282" stop-color="#009fff"/><stop offset="0.541" stop-color="#00d1ff"/><stop offset="0.780" stop-color="#00fff9"/><stop offset="1.000" stop-color="#00ff9a"/></linearGradient><linearGradient id="s103" gradientUnits="userSpaceOnUse" x1="161.6" y1="280.5" x2="361.2" y2="191.7"><stop offset="0.000" stop-color="#0065ff"/><stop offset="0.282" stop-color="#0099ff"/><stop offset="0.541" stop-color="#00cbff"/><stop offset="0.780" stop-color="#00fcff"/><stop offset="1.000" stop-color="#00ffa6"/></linearGradient><linearGradient id="s104" gradientUnits="userSpaceOnUse" x1="162.6" y1="281.2" x2="362.1" y2="192.4"><stop offset="0.000" stop-color="#005fff"/><stop offset="0.282" stop-color="#0094ff"/><stop offset="0.541" stop-color="#00c5ff"/><stop offset="0.780" stop-color="#00f6ff"/><stop offset="1.000" stop-color="#00ffb1"/></linearGradient><linearGradient id="s105" gradientUnits="userSpaceOnUse" x1="163.5" y1="282" x2="363" y2="193.1"><stop offset="0.000" stop-color="#0058ff"/><stop offset="0.282" stop-color="#008eff"/><stop offset="0.541" stop-color="#00bfff"/><stop offset="0.780" stop-color="#00f1ff"/><stop offset="1.000" stop-color="#00ffbd"/></linearGradient><linearGradient id="s106" gradientUnits="userSpaceOnUse" x1="164.5" y1="282.8" x2="363.9" y2="193.7"><stop offset="0.000" stop-color="#0052ff"/><stop offset="0.282" stop-color="#0089ff"/><stop offset="0.541" stop-color="#00baff"/><stop offset="0.780" stop-color="#00ebff"/><stop offset="1.000" stop-color="#00ffc8"/></linearGradient><linearGradient id="s107" gradientUnits="userSpaceOnUse" x1="165.5" y1="283.5" x2="364.8" y2="194.4"><stop offset="0.000" stop-color="#004dff"/><stop offset="0.282" stop-color="#0084ff"/><stop offset="0.541" stop-color="#00b4ff"/><stop offset="0.780" stop-color="#00e5ff"/><stop offset="1.000" stop-color="#00ffd3"/></linearGradient><linearGradient id="s108" gradientUnits="userSpaceOnUse" x1="166.4" y1="284.3" x2="365.8" y2="195"><stop offset="0.000" stop-color="#0047ff"/><stop offset="0.282" stop-color="#007eff"/><stop offset="0.541" stop-color="#00afff"/><stop offset="0.780" stop-color="#00e0ff"/><stop offset="1.000" stop-color="#00ffde"/></linearGradient><linearGradient id="s109" gradientUnits="userSpaceOnUse" x1="167.4" y1="285" x2="366.7" y2="195.7"><stop offset="0.000" stop-color="#0041ff"/><stop offset="0.282" stop-color="#0078ff"/><stop offset="0.541" stop-color="#00a9ff"/><stop offset="0.780" stop-color="#00daff"/><stop offset="1.000" stop-color="#00ffe9"/></linearGradient><linearGradient id="s110" gradientUnits="userSpaceOnUse" x1="168.4" y1="285.7" x2="367.6" y2="196.3"><stop offset="0.000" stop-color="#003bff"/><stop offset="0.282" stop-color="#0072ff"/><stop offset="0.541" stop-color="#00a4ff"/><stop offset="0.780" stop-color="#00d4ff"/><stop offset="1.000" stop-color="#00fff4"/></linearGradient><linearGradient id="s111" gradientUnits="userSpaceOnUse" x1="169.3" y1="286.5" x2="368.5" y2="196.9"><stop offset="0.000" stop-color="#0035ff"/><stop offset="0.282" stop-color="#006cff"/><stop offset="0.541" stop-color="#009fff"/><stop offset="0.780" stop-color="#00cfff"/><stop offset="1.000" stop-color="#00ffff"/></linearGradient><linearGradient id="s112" gradientUnits="userSpaceOnUse" x1="170.3" y1="287.2" x2="369.4" y2="197.6"><stop offset="0.000" stop-color="#0030ff"/><stop offset="0.282" stop-color="#0066ff"/><stop offset="0.541" stop-color="#009aff"/><stop offset="0.780" stop-color="#00caff"/><stop offset="1.000" stop-color="#00faff"/></linearGradient><linearGradient id="s113" gradientUnits="userSpaceOnUse" x1="171.3" y1="287.9" x2="370.3" y2="198.2"><stop offset="0.000" stop-color="#002aff"/><stop offset="0.282" stop-color="#0061ff"/><stop offset="0.541" stop-color="#0094ff"/><stop offset="0.780" stop-color="#00c4ff"/><stop offset="1.000" stop-color="#00f4ff"/></linearGradient><linearGradient id="s114" gradientUnits="userSpaceOnUse" x1="172.2" y1="288.7" x2="371.2" y2="198.8"><stop offset="0.000" stop-color="#0025ff"/><stop offset="0.282" stop-color="#005bff"/><stop offset="0.541" stop-color="#008fff"/><stop offset="0.780" stop-color="#00bfff"/><stop offset="1.000" stop-color="#00efff"/></linearGradient><linearGradient id="s115" gradientUnits="userSpaceOnUse" x1="173.2" y1="289.4" x2="372.2" y2="199.5"><stop offset="0.000" stop-color="#001fff"/><stop offset="0.282" stop-color="#0055ff"/><stop offset="0.541" stop-color="#008aff"/><stop offset="0.780" stop-color="#00baff"/><stop offset="1.000" stop-color="#00e9ff"/></linearGradient><linearGradient id="s116" gradientUnits="userSpaceOnUse" x1="174.2" y1="290.1" x2="373.1" y2="200.1"><stop offset="0.000" stop-color="#001aff"/><stop offset="0.282" stop-color="#0050ff"/><stop offset="0.541" stop-color="#0085ff"/><stop offset="0.780" stop-color="#00b4ff"/><stop offset="1.000" stop-color="#00e4ff"/></linearGradient><linearGradient id="s117" gradientUnits="userSpaceOnUse" x1="175.2" y1="290.8" x2="374" y2="200.7"><stop offset="0.000" stop-color="#0014ff"/><stop offset="0.282" stop-color="#004aff"/><stop offset="0.541" stop-color="#0080ff"/><stop offset="0.780" stop-color="#00afff"/><stop offset="1.000" stop-color="#00dfff"/></linearGradient><linearGradient id="s118" gradientUnits="userSpaceOnUse" x1="176.1" y1="291.5" x2="374.9" y2="201.3"><stop offset="0.000" stop-color="#000fff"/><stop offset="0.282" stop-color="#0045ff"/><stop offset="0.541" stop-color="#007aff"/><stop offset="0.780" stop-color="#00aaff"/><stop offset="1.000" stop-color="#00d9ff"/></linearGradient><linearGradient id="s119" gradientUnits="userSpaceOnUse" x1="177.1" y1="292.2" x2="375.8" y2="201.9"><stop offset="0.000" stop-color="#000aff"/><stop offset="0.282" stop-color="#003fff"/><stop offset="0.541" stop-color="#0075ff"/><stop offset="0.780" stop-color="#00a5ff"/><stop offset="1.000" stop-color="#00d4ff"/></linearGradient><linearGradient id="s120" gradientUnits="userSpaceOnUse" x1="178.1" y1="293" x2="376.8" y2="202.5"><stop offset="0.000" stop-color="#0004ff"/><stop offset="0.282" stop-color="#003aff"/><stop offset="0.542" stop-color="#006fff"/><stop offset="0.780" stop-color="#00a0ff"/><stop offset="1.000" stop-color="#00cfff"/></linearGradient><linearGradient id="s121" gradientUnits="userSpaceOnUse" x1="179.1" y1="293.7" x2="377.7" y2="203.1"><stop offset="0.000" stop-color="#0100ff"/><stop offset="0.282" stop-color="#0034ff"/><stop offset="0.542" stop-color="#006aff"/><stop offset="0.780" stop-color="#009bff"/><stop offset="1.000" stop-color="#00caff"/></linearGradient><linearGradient id="s122" gradientUnits="userSpaceOnUse" x1="180" y1="294.4" x2="378.6" y2="203.7"><stop offset="0.000" stop-color="#0400ff"/><stop offset="0.283" stop-color="#002fff"/><stop offset="0.542" stop-color="#0064ff"/><stop offset="0.780" stop-color="#0096ff"/><stop offset="1.000" stop-color="#00c5ff"/></linearGradient><linearGradient id="s123" gradientUnits="userSpaceOnUse" x1="181" y1="295.1" x2="379.5" y2="204.3"><stop offset="0.000" stop-color="#0800ff"/><stop offset="0.283" stop-color="#002aff"/><stop offset="0.542" stop-color="#005fff"/><stop offset="0.780" stop-color="#0091ff"/><stop offset="1.000" stop-color="#00c0ff"/></linearGradient><linearGradient id="s124" gradientUnits="userSpaceOnUse" x1="182" y1="295.8" x2="380.5" y2="204.9"><stop offset="0.000" stop-color="#0c00ff"/><stop offset="0.283" stop-color="#0024ff"/><stop offset="0.542" stop-color="#0059ff"/><stop offset="0.780" stop-color="#008cff"/><stop offset="1.000" stop-color="#00bbff"/></linearGradient><linearGradient id="s125" gradientUnits="userSpaceOnUse" x1="183" y1="296.5" x2="381.4" y2="205.5"><stop offset="0.000" stop-color="#0f00ff"/><stop offset="0.283" stop-color="#001fff"/><stop offset="0.542" stop-color="#0054ff"/><stop offset="0.780" stop-color="#0088ff"/><stop offset="1.000" stop-color="#00b6ff"/></linearGradient><linearGradient id="s126" gradientUnits="userSpaceOnUse" x1="184" y1="297.2" x2="382.3" y2="206.1"><stop offset="0.000" stop-color="#1300ff"/><stop offset="0.283" stop-color="#001aff"/><stop offset="0.542" stop-color="#004eff"/><stop offset="0.780" stop-color="#0083ff"/><stop offset="1.000" stop-color="#00b1ff"/></linearGradient><linearGradient id="s127" gradientUnits="userSpaceOnUse" x1="184.9" y1="297.9" x2="383.3" y2="206.7"><stop offset="0.000" stop-color="#1700ff"/><stop offset="0.283" stop-color="#0015ff"/><stop offset="0.542" stop-color="#0049ff"/><stop offset="0.780" stop-color="#007eff"/><stop offset="1.000" stop-color="#00acff"/></linearGradient><linearGradient id="s128" gradientUnits="userSpaceOnUse" x1="185.9" y1="298.6" x2="384.2" y2="207.2"><stop offset="0.000" stop-color="#1a00ff"/><stop offset="0.283" stop-color="#000fff"/><stop offset="0.542" stop-color="#0044ff"/><stop offset="0.780" stop-color="#0078ff"/><stop offset="1.000" stop-color="#00a7ff"/></linearGradient><linearGradient id="s129" gradientUnits="userSpaceOnUse" x1="186.9" y1="299.3" x2="385.1" y2="207.8"><stop offset="0.000" stop-color="#1e00ff"/><stop offset="0.283" stop-color="#000aff"/><stop offset="0.542" stop-color="#003fff"/><stop offset="0.780" stop-color="#0073ff"/><stop offset="1.000" stop-color="#00a3ff"/></linearGradient><linearGradient id="s130" gradientUnits="userSpaceOnUse" x1="187.9" y1="300" x2="386" y2="208.4"><stop offset="0.000" stop-color="#2100ff"/><stop offset="0.283" stop-color="#0005ff"/><stop offset="0.542" stop-color="#0039ff"/><stop offset="0.780" stop-color="#006eff"/><stop offset="1.000" stop-color="#009eff"/></linearGradient><linearGradient id="s131" gradientUnits="userSpaceOnUse" x1="188.9" y1="300.7" x2="387" y2="209"><stop offset="0.000" stop-color="#2500ff"/><stop offset="0.283" stop-color="#0000ff"/><stop offset="0.542" stop-color="#0034ff"/><stop offset="0.780" stop-color="#0069ff"/><stop offset="1.000" stop-color="#0099ff"/></linearGradient><linearGradient id="s132" gradientUnits="userSpaceOnUse" x1="189.9" y1="301.4" x2="387.9" y2="209.5"><stop offset="0.000" stop-color="#2800ff"/><stop offset="0.283" stop-color="#0400ff"/><stop offset="0.542" stop-color="#002fff"/><stop offset="0.780" stop-color="#0063ff"/><stop offset="1.000" stop-color="#0095ff"/></linearGradient><linearGradient id="s133" gradientUnits="userSpaceOnUse" x1="190.9" y1="302.1" x2="388.8" y2="210.1"><stop offset="0.000" stop-color="#2c00ff"/><stop offset="0.283" stop-color="#0700ff"/><stop offset="0.542" stop-color="#002aff"/><stop offset="0.780" stop-color="#005eff"/><stop offset="1.000" stop-color="#0090ff"/></linearGradient><linearGradient id="s134" gradientUnits="userSpaceOnUse" x1="191.9" y1="302.8" x2="389.8" y2="210.7"><stop offset="0.000" stop-color="#2f00ff"/><stop offset="0.283" stop-color="#0b00ff"/><stop offset="0.542" stop-color="#0025ff"/><stop offset="0.780" stop-color="#0059ff"/><stop offset="1.000" stop-color="#008bff"/></linearGradient><linearGradient id="s135" gradientUnits="userSpaceOnUse" x1="192.8" y1="303.5" x2="390.7" y2="211.2"><stop offset="0.000" stop-color="#3300ff"/><stop offset="0.283" stop-color="#0e00ff"/><stop offset="0.542" stop-color="#0020ff"/><stop offset="0.780" stop-color="#0054ff"/><stop offset="1.000" stop-color="#0087ff"/></linearGradient><linearGradient id="s136" gradientUnits="userSpaceOnUse" x1="193.8" y1="304.2" x2="391.7" y2="211.8"><stop offset="0.000" stop-color="#3600ff"/><stop offset="0.283" stop-color="#1200ff"/><stop offset="0.542" stop-color="#001bff"/><stop offset="0.780" stop-color="#004fff"/><stop offset="1.000" stop-color="#0082ff"/></linearGradient><linearGradient id="s137" gradientUnits="userSpaceOnUse" x1="194.8" y1="304.9" x2="392.6" y2="212.4"><stop offset="0.000" stop-color="#3a00ff"/><stop offset="0.283" stop-color="#1500ff"/><stop offset="0.542" stop-color="#0016ff"/><stop offset="0.780" stop-color="#004aff"/><stop offset="1.000" stop-color="#007eff"/></linearGradient><linearGradient id="s138" gradientUnits="userSpaceOnUse" x1="195.8" y1="305.6" x2="393.5" y2="212.9"><stop offset="0.000" stop-color="#3d00ff"/><stop offset="0.283" stop-color="#1900ff"/><stop offset="0.542" stop-color="#0011ff"/><stop offset="0.780" stop-color="#0045ff"/><stop offset="1.000" stop-color="#0079ff"/></linearGradient><linearGradient id="s139" gradientUnits="userSpaceOnUse" x1="196.8" y1="306.2" x2="394.5" y2="213.5"><stop offset="0.000" stop-color="#4000ff"/><stop offset="0.283" stop-color="#1c00ff"/><stop offset="0.542" stop-color="#000cff"/><stop offset="0.780" stop-color="#0040ff"/><stop offset="1.000" stop-color="#0074ff"/></linearGradient><linearGradient id="s140" gradientUnits="userSpaceOnUse" x1="197.8" y1="306.9" x2="395.4" y2="214"><stop offset="0.000" stop-color="#4400ff"/><stop offset="0.283" stop-color="#1f00ff"/><stop offset="0.542" stop-color="#0007ff"/><stop offset="0.780" stop-color="#003bff"/><stop offset="1.000" stop-color="#006fff"/></linearGradient><linearGradient id="s141" gradientUnits="userSpaceOnUse" x1="198.8" y1="307.6" x2="396.3" y2="214.6"><stop offset="0.000" stop-color="#4700ff"/><stop offset="0.283" stop-color="#2300ff"/><stop offset="0.542" stop-color="#0002ff"/><stop offset="0.780" stop-color="#0036ff"/><stop offset="1.000" stop-color="#006aff"/></linearGradient><linearGradient id="s142" gradientUnits="userSpaceOnUse" x1="199.8" y1="308.3" x2="397.3" y2="215.1"><stop offset="0.000" stop-color="#4a00fd"/><stop offset="0.283" stop-color="#2600ff"/><stop offset="0.542" stop-color="#0200ff"/><stop offset="0.780" stop-color="#0031ff"/><stop offset="1.000" stop-color="#0065ff"/></linearGradient><linearGradient id="s143" gradientUnits="userSpaceOnUse" x1="200.8" y1="309" x2="398.2" y2="215.7"><stop offset="0.000" stop-color="#4c00fb"/><stop offset="0.283" stop-color="#2a00ff"/><stop offset="0.542" stop-color="#0500ff"/><stop offset="0.780" stop-color="#002cff"/><stop offset="1.000" stop-color="#0060ff"/></linearGradient><linearGradient id="s144" gradientUnits="userSpaceOnUse" x1="201.8" y1="309.7" x2="399.2" y2="216.2"><stop offset="0.000" stop-color="#4e00f9"/><stop offset="0.283" stop-color="#2d00ff"/><stop offset="0.542" stop-color="#0800ff"/><stop offset="0.780" stop-color="#0028ff"/><stop offset="1.000" stop-color="#005bff"/></linearGradient><linearGradient id="s145" gradientUnits="userSpaceOnUse" x1="202.8" y1="310.4" x2="400.1" y2="216.7"><stop offset="0.000" stop-color="#5000f7"/><stop offset="0.283" stop-color="#3000ff"/><stop offset="0.542" stop-color="#0c00ff"/><stop offset="0.780" stop-color="#0023ff"/><stop offset="1.000" stop-color="#0057ff"/></linearGradient><linearGradient id="s146" gradientUnits="userSpaceOnUse" x1="203.8" y1="311" x2="401.1" y2="217.3"><stop offset="0.000" stop-color="#5300f5"/><stop offset="0.283" stop-color="#3300ff"/><stop offset="0.542" stop-color="#0f00ff"/><stop offset="0.780" stop-color="#001eff"/><stop offset="1.000" stop-color="#0052ff"/></linearGradient><linearGradient id="s147" gradientUnits="userSpaceOnUse" x1="204.8" y1="311.7" x2="402" y2="217.8"><stop offset="0.000" stop-color="#5500f2"/><stop offset="0.283" stop-color="#3700ff"/><stop offset="0.542" stop-color="#1200ff"/><stop offset="0.780" stop-color="#001aff"/><stop offset="1.000" stop-color="#004dff"/></linearGradient><linearGradient id="s148" gradientUnits="userSpaceOnUse" x1="205.8" y1="312.4" x2="403" y2="218.3"><stop offset="0.000" stop-color="#5700f0"/><stop offset="0.283" stop-color="#3a00ff"/><stop offset="0.542" stop-color="#1600ff"/><stop offset="0.780" stop-color="#0015ff"/><stop offset="1.000" stop-color="#0049ff"/></linearGradient><linearGradient id="s149" gradientUnits="userSpaceOnUse" x1="206.8" y1="313.1" x2="403.9" y2="218.9"><stop offset="0.000" stop-color="#5900ee"/><stop offset="0.283" stop-color="#3d00ff"/><stop offset="0.542" stop-color="#1900ff"/><stop offset="0.780" stop-color="#0010ff"/><stop offset="1.000" stop-color="#0044ff"/></linearGradient><linearGradient id="s150" gradientUnits="userSpaceOnUse" x1="207.8" y1="313.8" x2="404.9" y2="219.4"><stop offset="0.000" stop-color="#5b00ec"/><stop offset="0.283" stop-color="#4000ff"/><stop offset="0.542" stop-color="#1c00ff"/><stop offset="0.780" stop-color="#000cff"/><stop offset="1.000" stop-color="#0040ff"/></linearGradient><linearGradient id="s151" gradientUnits="userSpaceOnUse" x1="208.8" y1="314.4" x2="405.8" y2="219.9"><stop offset="0.000" stop-color="#5d00ea"/><stop offset="0.283" stop-color="#4400ff"/><stop offset="0.542" stop-color="#1f00ff"/><stop offset="0.780" stop-color="#0007ff"/><stop offset="1.000" stop-color="#003bff"/></linearGradient><linearGradient id="s152" gradientUnits="userSpaceOnUse" x1="209.9" y1="315.1" x2="406.8" y2="220.4"><stop offset="0.000" stop-color="#5f00e8"/><stop offset="0.283" stop-color="#4700ff"/><stop offset="0.542" stop-color="#2200ff"/><stop offset="0.780" stop-color="#0003ff"/><stop offset="1.000" stop-color="#0037ff"/></linearGradient><linearGradient id="s153" gradientUnits="userSpaceOnUse" x1="210.9" y1="315.8" x2="407.7" y2="221"><stop offset="0.000" stop-color="#6200e6"/><stop offset="0.283" stop-color="#4900fe"/><stop offset="0.542" stop-color="#2500ff"/><stop offset="0.780" stop-color="#0100ff"/><stop offset="1.000" stop-color="#0032ff"/></linearGradient><linearGradient id="s154" gradientUnits="userSpaceOnUse" x1="211.9" y1="316.4" x2="408.7" y2="221.5"><stop offset="0.000" stop-color="#6400e4"/><stop offset="0.283" stop-color="#4b00fc"/><stop offset="0.542" stop-color="#2800ff"/><stop offset="0.780" stop-color="#0400ff"/><stop offset="1.000" stop-color="#002eff"/></linearGradient><linearGradient id="s155" gradientUnits="userSpaceOnUse" x1="212.9" y1="317.1" x2="409.6" y2="222"><stop offset="0.000" stop-color="#6600e2"/><stop offset="0.283" stop-color="#4d00fa"/><stop offset="0.542" stop-color="#2c00ff"/><stop offset="0.780" stop-color="#0700ff"/><stop offset="1.000" stop-color="#002aff"/></linearGradient><linearGradient id="s156" gradientUnits="userSpaceOnUse" x1="213.9" y1="317.8" x2="410.6" y2="222.5"><stop offset="0.000" stop-color="#6800e0"/><stop offset="0.283" stop-color="#4f00f8"/><stop offset="0.542" stop-color="#2f00ff"/><stop offset="0.780" stop-color="#0a00ff"/><stop offset="1.000" stop-color="#0026ff"/></linearGradient><linearGradient id="s157" gradientUnits="userSpaceOnUse" x1="214.9" y1="318.4" x2="411.5" y2="223"><stop offset="0.000" stop-color="#6a00de"/><stop offset="0.283" stop-color="#5100f6"/><stop offset="0.542" stop-color="#3200ff"/><stop offset="0.780" stop-color="#0d00ff"/><stop offset="1.000" stop-color="#0021ff"/></linearGradient><linearGradient id="s158" gradientUnits="userSpaceOnUse" x1="215.9" y1="319.1" x2="412.5" y2="223.5"><stop offset="0.000" stop-color="#6c00dc"/><stop offset="0.283" stop-color="#5300f4"/><stop offset="0.542" stop-color="#3400ff"/><stop offset="0.780" stop-color="#1000ff"/><stop offset="1.000" stop-color="#001dff"/></linearGradient><linearGradient id="s159" gradientUnits="userSpaceOnUse" x1="216.9" y1="319.7" x2="413.5" y2="224"><stop offset="0.000" stop-color="#6e00da"/><stop offset="0.283" stop-color="#5500f2"/><stop offset="0.542" stop-color="#3700ff"/><stop offset="0.780" stop-color="#1300ff"/><stop offset="1.000" stop-color="#0019ff"/></linearGradient><linearGradient id="s160" gradientUnits="userSpaceOnUse" x1="218" y1="320.4" x2="414.4" y2="224.5"><stop offset="0.000" stop-color="#7000d8"/><stop offset="0.283" stop-color="#5700f0"/><stop offset="0.542" stop-color="#3a00ff"/><stop offset="0.780" stop-color="#1600ff"/><stop offset="1.000" stop-color="#0015ff"/></linearGradient><linearGradient id="s161" gradientUnits="userSpaceOnUse" x1="219" y1="321" x2="415.4" y2="225"><stop offset="0.000" stop-color="#7200d6"/><stop offset="0.283" stop-color="#5900ee"/><stop offset="0.542" stop-color="#3d00ff"/><stop offset="0.780" stop-color="#1900ff"/><stop offset="1.000" stop-color="#0011ff"/></linearGradient><linearGradient id="s162" gradientUnits="userSpaceOnUse" x1="220" y1="321.7" x2="416.3" y2="225.5"><stop offset="0.000" stop-color="#7300d4"/><stop offset="0.283" stop-color="#5b00ec"/><stop offset="0.542" stop-color="#4000ff"/><stop offset="0.780" stop-color="#1b00ff"/><stop offset="1.000" stop-color="#000dff"/></linearGradient><linearGradient id="s163" gradientUnits="userSpaceOnUse" x1="221" y1="322.3" x2="417.3" y2="226"><stop offset="0.000" stop-color="#7500d2"/><stop offset="0.283" stop-color="#5d00ea"/><stop offset="0.542" stop-color="#4300ff"/><stop offset="0.780" stop-color="#1e00ff"/><stop offset="1.000" stop-color="#0009ff"/></linearGradient><linearGradient id="s164" gradientUnits="userSpaceOnUse" x1="222" y1="323" x2="418.3" y2="226.5"><stop offset="0.000" stop-color="#7700d1"/><stop offset="0.283" stop-color="#5f00e9"/><stop offset="0.542" stop-color="#4500ff"/><stop offset="0.780" stop-color="#2100ff"/><stop offset="1.000" stop-color="#0005ff"/></linearGradient><linearGradient id="s165" gradientUnits="userSpaceOnUse" x1="223.1" y1="323.6" x2="419.2" y2="227"><stop offset="0.000" stop-color="#7900cf"/><stop offset="0.283" stop-color="#6100e7"/><stop offset="0.542" stop-color="#4800ff"/><stop offset="0.781" stop-color="#2300ff"/><stop offset="1.000" stop-color="#0002ff"/></linearGradient><linearGradient id="s166" gradientUnits="userSpaceOnUse" x1="224.1" y1="324.2" x2="420.2" y2="227.5"><stop offset="0.000" stop-color="#7b00cd"/><stop offset="0.283" stop-color="#6200e5"/><stop offset="0.542" stop-color="#4a00fd"/><stop offset="0.781" stop-color="#2600ff"/><stop offset="1.000" stop-color="#0100ff"/></linearGradient><linearGradient id="s167" gradientUnits="userSpaceOnUse" x1="225.1" y1="324.8" x2="421.2" y2="227.9"><stop offset="0.000" stop-color="#7d00cb"/><stop offset="0.283" stop-color="#6400e3"/><stop offset="0.542" stop-color="#4c00fb"/><stop offset="0.781" stop-color="#2900ff"/><stop offset="1.000" stop-color="#0400ff"/></linearGradient><linearGradient id="s168" gradientUnits="userSpaceOnUse" x1="226.1" y1="325.5" x2="422.1" y2="228.4"><stop offset="0.000" stop-color="#7e00ca"/><stop offset="0.283" stop-color="#6600e2"/><stop offset="0.542" stop-color="#4d00fa"/><stop offset="0.781" stop-color="#2b00ff"/><stop offset="1.000" stop-color="#0700ff"/></linearGradient><linearGradient id="s169" gradientUnits="userSpaceOnUse" x1="227.2" y1="326.1" x2="423.1" y2="228.9"><stop offset="0.000" stop-color="#8000c8"/><stop offset="0.283" stop-color="#6800e0"/><stop offset="0.542" stop-color="#4f00f8"/><stop offset="0.781" stop-color="#2e00ff"/><stop offset="1.000" stop-color="#0900ff"/></linearGradient><linearGradient id="s170" gradientUnits="userSpaceOnUse" x1="228.2" y1="326.7" x2="424.1" y2="229.4"><stop offset="0.000" stop-color="#7f00c5"/><stop offset="0.283" stop-color="#6900de"/><stop offset="0.542" stop-color="#5100f6"/><stop offset="0.781" stop-color="#3000ff"/><stop offset="1.000" stop-color="#0c00ff"/></linearGradient><linearGradient id="s171" gradientUnits="userSpaceOnUse" x1="229.2" y1="327.3" x2="425" y2="229.8"><stop offset="0.000" stop-color="#7e00c2"/><stop offset="0.283" stop-color="#6b00dd"/><stop offset="0.543" stop-color="#5200f5"/><stop offset="0.781" stop-color="#3300ff"/><stop offset="1.000" stop-color="#0e00ff"/></linearGradient><linearGradient id="s172" gradientUnits="userSpaceOnUse" x1="230.3" y1="327.9" x2="426" y2="230.3"><stop offset="0.000" stop-color="#7d00c0"/><stop offset="0.283" stop-color="#6c00db"/><stop offset="0.543" stop-color="#5400f3"/><stop offset="0.781" stop-color="#3500ff"/><stop offset="1.000" stop-color="#1000ff"/></linearGradient><linearGradient id="s173" gradientUnits="userSpaceOnUse" x1="231.3" y1="328.5" x2="427" y2="230.7"><stop offset="0.000" stop-color="#7c00bd"/><stop offset="0.283" stop-color="#6e00da"/><stop offset="0.543" stop-color="#5600f2"/><stop offset="0.781" stop-color="#3800ff"/><stop offset="1.000" stop-color="#1300ff"/></linearGradient><linearGradient id="s174" gradientUnits="userSpaceOnUse" x1="232.3" y1="329.1" x2="428" y2="231.2"><stop offset="0.000" stop-color="#7b00ba"/><stop offset="0.283" stop-color="#7000d8"/><stop offset="0.543" stop-color="#5700f0"/><stop offset="0.781" stop-color="#3a00ff"/><stop offset="1.000" stop-color="#1500ff"/></linearGradient><linearGradient id="s175" gradientUnits="userSpaceOnUse" x1="233.4" y1="329.7" x2="428.9" y2="231.6"><stop offset="0.000" stop-color="#7a00b8"/><stop offset="0.283" stop-color="#7100d7"/><stop offset="0.543" stop-color="#5900ef"/><stop offset="0.781" stop-color="#3c00ff"/><stop offset="1.000" stop-color="#1700ff"/></linearGradient><linearGradient id="s176" gradientUnits="userSpaceOnUse" x1="234.4" y1="330.3" x2="429.9" y2="232.1"><stop offset="0.000" stop-color="#7900b5"/><stop offset="0.283" stop-color="#7300d5"/><stop offset="0.543" stop-color="#5a00ed"/><stop offset="0.781" stop-color="#3e00ff"/><stop offset="1.000" stop-color="#1a00ff"/></linearGradient><linearGradient id="s177" gradientUnits="userSpaceOnUse" x1="235.4" y1="330.8" x2="430.9" y2="232.5"><stop offset="0.000" stop-color="#7800b3"/><stop offset="0.283" stop-color="#7400d4"/><stop offset="0.543" stop-color="#5c00ec"/><stop offset="0.781" stop-color="#4100ff"/><stop offset="1.000" stop-color="#1c00ff"/></linearGradient><linearGradient id="s178" gradientUnits="userSpaceOnUse" x1="236.5" y1="331.4" x2="431.9" y2="233"><stop offset="0.000" stop-color="#7700b0"/><stop offset="0.283" stop-color="#7500d2"/><stop offset="0.543" stop-color="#5d00ea"/><stop offset="0.781" stop-color="#4300ff"/><stop offset="1.000" stop-color="#1e00ff"/></linearGradient><linearGradient id="s179" gradientUnits="userSpaceOnUse" x1="237.5" y1="332" x2="432.8" y2="233.4"><stop offset="0.000" stop-color="#7700ae"/><stop offset="0.283" stop-color="#7700d1"/><stop offset="0.543" stop-color="#5e00e9"/><stop offset="0.781" stop-color="#4500ff"/><stop offset="1.000" stop-color="#2000ff"/></linearGradient><linearGradient id="s180" gradientUnits="userSpaceOnUse" x1="238.5" y1="332.5" x2="433.8" y2="233.8"><stop offset="0.000" stop-color="#7600ac"/><stop offset="0.283" stop-color="#7800d0"/><stop offset="0.543" stop-color="#6000e8"/><stop offset="0.781" stop-color="#4700ff"/><stop offset="1.000" stop-color="#2200ff"/></linearGradient><linearGradient id="s181" gradientUnits="userSpaceOnUse" x1="239.6" y1="333.1" x2="434.8" y2="234.3"><stop offset="0.000" stop-color="#7500aa"/><stop offset="0.283" stop-color="#7900ce"/><stop offset="0.543" stop-color="#6100e6"/><stop offset="0.781" stop-color="#4900fe"/><stop offset="1.000" stop-color="#2400ff"/></linearGradient><linearGradient id="s182" gradientUnits="userSpaceOnUse" x1="240.6" y1="333.6" x2="435.8" y2="234.7"><stop offset="0.000" stop-color="#7400a8"/><stop offset="0.283" stop-color="#7b00cd"/><stop offset="0.543" stop-color="#6200e5"/><stop offset="0.781" stop-color="#4a00fd"/><stop offset="1.000" stop-color="#2600ff"/></linearGradient><linearGradient id="s183" gradientUnits="userSpaceOnUse" x1="241.7" y1="334.1" x2="436.8" y2="235.1"><stop offset="0.000" stop-color="#7300a6"/><stop offset="0.284" stop-color="#7c00cc"/><stop offset="0.543" stop-color="#6400e4"/><stop offset="0.781" stop-color="#4b00fc"/><stop offset="1.000" stop-color="#2800ff"/></linearGradient><linearGradient id="s184" gradientUnits="userSpaceOnUse" x1="242.7" y1="334.7" x2="437.8" y2="235.5"><stop offset="0.000" stop-color="#7300a4"/><stop offset="0.284" stop-color="#7d00cb"/><stop offset="0.543" stop-color="#6500e3"/><stop offset="0.781" stop-color="#4c00fb"/><stop offset="1.000" stop-color="#2a00ff"/></linearGradient><linearGradient id="s185" gradientUnits="userSpaceOnUse" x1="243.8" y1="335.2" x2="438.7" y2="236"><stop offset="0.000" stop-color="#7200a2"/><stop offset="0.284" stop-color="#7e00ca"/><stop offset="0.543" stop-color="#6600e2"/><stop offset="0.781" stop-color="#4e00f9"/><stop offset="1.000" stop-color="#2c00ff"/></linearGradient><linearGradient id="s186" gradientUnits="userSpaceOnUse" x1="244.8" y1="335.7" x2="439.7" y2="236.4"><stop offset="0.000" stop-color="#7100a0"/><stop offset="0.284" stop-color="#7f00c9"/><stop offset="0.543" stop-color="#6700e0"/><stop offset="0.781" stop-color="#4f00f8"/><stop offset="1.000" stop-color="#2e00ff"/></linearGradient><linearGradient id="s187" gradientUnits="userSpaceOnUse" x1="245.9" y1="336.2" x2="440.7" y2="236.8"><stop offset="0.000" stop-color="#71009e"/><stop offset="0.284" stop-color="#8000c7"/><stop offset="0.543" stop-color="#6800df"/><stop offset="0.781" stop-color="#5000f7"/><stop offset="1.000" stop-color="#3000ff"/></linearGradient><linearGradient id="s188" gradientUnits="userSpaceOnUse" x1="246.9" y1="336.7" x2="441.7" y2="237.2"><stop offset="0.000" stop-color="#70009c"/><stop offset="0.284" stop-color="#7f00c5"/><stop offset="0.543" stop-color="#6900de"/><stop offset="0.781" stop-color="#5100f6"/><stop offset="1.000" stop-color="#3100ff"/></linearGradient><linearGradient id="s189" gradientUnits="userSpaceOnUse" x1="248" y1="337.2" x2="442.7" y2="237.6"><stop offset="0.000" stop-color="#70009b"/><stop offset="0.284" stop-color="#7e00c4"/><stop offset="0.543" stop-color="#6a00dd"/><stop offset="0.781" stop-color="#5200f5"/><stop offset="1.000" stop-color="#3300ff"/></linearGradient><linearGradient id="s190" gradientUnits="userSpaceOnUse" x1="249" y1="337.7" x2="443.7" y2="238"><stop offset="0.000" stop-color="#6f0099"/><stop offset="0.284" stop-color="#7e00c2"/><stop offset="0.543" stop-color="#6b00dc"/><stop offset="0.781" stop-color="#5300f4"/><stop offset="1.000" stop-color="#3500ff"/></linearGradient><linearGradient id="s191" gradientUnits="userSpaceOnUse" x1="250.1" y1="338.2" x2="444.7" y2="238.4"><stop offset="0.000" stop-color="#6e0098"/><stop offset="0.284" stop-color="#7d00c0"/><stop offset="0.543" stop-color="#6c00db"/><stop offset="0.781" stop-color="#5400f3"/><stop offset="1.000" stop-color="#3600ff"/></linearGradient><linearGradient id="s192" gradientUnits="userSpaceOnUse" x1="251.1" y1="338.7" x2="445.7" y2="238.8"><stop offset="0.000" stop-color="#6e0096"/><stop offset="0.284" stop-color="#7d00bf"/><stop offset="0.543" stop-color="#6d00da"/><stop offset="0.781" stop-color="#5500f2"/><stop offset="1.000" stop-color="#3800ff"/></linearGradient><linearGradient id="s193" gradientUnits="userSpaceOnUse" x1="252.2" y1="339.2" x2="446.7" y2="239.2"><stop offset="0.000" stop-color="#6d0095"/><stop offset="0.284" stop-color="#7c00be"/><stop offset="0.543" stop-color="#6e00d9"/><stop offset="0.781" stop-color="#5600f1"/><stop offset="1.000" stop-color="#3900ff"/></linearGradient><linearGradient id="s194" gradientUnits="userSpaceOnUse" x1="253.2" y1="339.7" x2="447.7" y2="239.5"><stop offset="0.000" stop-color="#6d0094"/><stop offset="0.284" stop-color="#7c00bc"/><stop offset="0.543" stop-color="#6f00d9"/><stop offset="0.781" stop-color="#5700f0"/><stop offset="1.000" stop-color="#3b00ff"/></linearGradient><linearGradient id="s195" gradientUnits="userSpaceOnUse" x1="254.3" y1="340.1" x2="448.7" y2="239.9"><stop offset="0.000" stop-color="#6d0092"/><stop offset="0.284" stop-color="#7b00bb"/><stop offset="0.543" stop-color="#7000d8"/><stop offset="0.781" stop-color="#5800ef"/><stop offset="1.000" stop-color="#3c00ff"/></linearGradient><linearGradient id="s196" gradientUnits="userSpaceOnUse" x1="255.3" y1="340.6" x2="449.7" y2="240.3"><stop offset="0.000" stop-color="#6c0091"/><stop offset="0.284" stop-color="#7b00ba"/><stop offset="0.543" stop-color="#7100d7"/><stop offset="0.781" stop-color="#5900ee"/><stop offset="1.000" stop-color="#3e00ff"/></linearGradient><linearGradient id="s197" gradientUnits="userSpaceOnUse" x1="256.4" y1="341" x2="450.7" y2="240.7"><stop offset="0.000" stop-color="#6c0090"/><stop offset="0.284" stop-color="#7a00b8"/><stop offset="0.543" stop-color="#7200d6"/><stop offset="0.781" stop-color="#5a00ed"/><stop offset="1.000" stop-color="#3f00ff"/></linearGradient><linearGradient id="s198" gradientUnits="userSpaceOnUse" x1="257.5" y1="341.5" x2="451.7" y2="241"><stop offset="0.000" stop-color="#6b008f"/><stop offset="0.284" stop-color="#7a00b7"/><stop offset="0.543" stop-color="#7200d5"/><stop offset="0.781" stop-color="#5b00ed"/><stop offset="1.000" stop-color="#4100ff"/></linearGradient><linearGradient id="s199" gradientUnits="userSpaceOnUse" x1="258.5" y1="341.9" x2="452.7" y2="241.4"><stop offset="0.000" stop-color="#6b008e"/><stop offset="0.284" stop-color="#7900b6"/><stop offset="0.543" stop-color="#7300d5"/><stop offset="0.781" stop-color="#5b00ec"/><stop offset="1.000" stop-color="#4200ff"/></linearGradient><linearGradient id="s200" gradientUnits="userSpaceOnUse" x1="259.6" y1="342.3" x2="453.7" y2="241.8"><stop offset="0.000" stop-color="#6b008d"/><stop offset="0.284" stop-color="#7900b5"/><stop offset="0.543" stop-color="#7400d4"/><stop offset="0.781" stop-color="#5c00eb"/><stop offset="1.000" stop-color="#4300ff"/></linearGradient><linearGradient id="s201" gradientUnits="userSpaceOnUse" x1="260.7" y1="342.8" x2="454.7" y2="242.1"><stop offset="0.000" stop-color="#6a008c"/><stop offset="0.284" stop-color="#7900b4"/><stop offset="0.543" stop-color="#7400d3"/><stop offset="0.781" stop-color="#5d00ea"/><stop offset="1.000" stop-color="#4400ff"/></linearGradient><linearGradient id="s202" gradientUnits="userSpaceOnUse" x1="261.7" y1="343.2" x2="455.7" y2="242.5"><stop offset="0.000" stop-color="#6a008c"/><stop offset="0.284" stop-color="#7800b3"/><stop offset="0.543" stop-color="#7500d3"/><stop offset="0.781" stop-color="#5e00ea"/><stop offset="1.000" stop-color="#4600ff"/></linearGradient><linearGradient id="s203" gradientUnits="userSpaceOnUse" x1="262.8" y1="343.6" x2="456.7" y2="242.8"><stop offset="0.000" stop-color="#6a008b"/><stop offset="0.284" stop-color="#7800b2"/><stop offset="0.543" stop-color="#7600d2"/><stop offset="0.781" stop-color="#5e00e9"/><stop offset="1.000" stop-color="#4700ff"/></linearGradient><linearGradient id="s204" gradientUnits="userSpaceOnUse" x1="263.9" y1="344" x2="457.7" y2="243.2"><stop offset="0.000" stop-color="#6a008a"/><stop offset="0.284" stop-color="#7800b1"/><stop offset="0.543" stop-color="#7600d2"/><stop offset="0.781" stop-color="#5f00e8"/><stop offset="1.000" stop-color="#4800ff"/></linearGradient><linearGradient id="s205" gradientUnits="userSpaceOnUse" x1="264.9" y1="344.4" x2="458.7" y2="243.5"><stop offset="0.000" stop-color="#69008a"/><stop offset="0.284" stop-color="#7700b1"/><stop offset="0.543" stop-color="#7700d1"/><stop offset="0.781" stop-color="#6000e8"/><stop offset="1.000" stop-color="#4900fe"/></linearGradient><linearGradient id="s206" gradientUnits="userSpaceOnUse" x1="266" y1="344.8" x2="459.7" y2="243.9"><stop offset="0.000" stop-color="#690089"/><stop offset="0.284" stop-color="#7700b0"/><stop offset="0.543" stop-color="#7700d0"/><stop offset="0.781" stop-color="#6000e7"/><stop offset="1.000" stop-color="#4900fe"/></linearGradient><linearGradient id="s207" gradientUnits="userSpaceOnUse" x1="267.1" y1="345.2" x2="460.7" y2="244.2"><stop offset="0.000" stop-color="#690088"/><stop offset="0.284" stop-color="#7700af"/><stop offset="0.543" stop-color="#7800d0"/><stop offset="0.781" stop-color="#6100e6"/><stop offset="1.000" stop-color="#4a00fd"/></linearGradient><linearGradient id="s208" gradientUnits="userSpaceOnUse" x1="268.2" y1="345.6" x2="461.7" y2="244.6"><stop offset="0.000" stop-color="#690088"/><stop offset="0.284" stop-color="#7700ae"/><stop offset="0.543" stop-color="#7800cf"/><stop offset="0.781" stop-color="#6200e6"/><stop offset="1.000" stop-color="#4b00fc"/></linearGradient><linearGradient id="s209" gradientUnits="userSpaceOnUse" x1="269.2" y1="346" x2="462.7" y2="244.9"><stop offset="0.000" stop-color="#680087"/><stop offset="0.284" stop-color="#7600ae"/><stop offset="0.543" stop-color="#7900cf"/><stop offset="0.781" stop-color="#6200e5"/><stop offset="1.000" stop-color="#4c00fb"/></linearGradient><linearGradient id="s210" gradientUnits="userSpaceOnUse" x1="270.3" y1="346.4" x2="463.8" y2="245.3"><stop offset="0.000" stop-color="#680087"/><stop offset="0.284" stop-color="#7600ad"/><stop offset="0.543" stop-color="#7900ce"/><stop offset="0.781" stop-color="#6300e5"/><stop offset="1.000" stop-color="#4c00fb"/></linearGradient><linearGradient id="s211" gradientUnits="userSpaceOnUse" x1="271.4" y1="346.8" x2="464.8" y2="245.6"><stop offset="0.000" stop-color="#680086"/><stop offset="0.284" stop-color="#7600ac"/><stop offset="0.543" stop-color="#7a00ce"/><stop offset="0.781" stop-color="#6300e4"/><stop offset="1.000" stop-color="#4d00fa"/></linearGradient><linearGradient id="s212" gradientUnits="userSpaceOnUse" x1="272.5" y1="347.2" x2="465.8" y2="245.9"><stop offset="0.000" stop-color="#680086"/><stop offset="0.284" stop-color="#7600ac"/><stop offset="0.543" stop-color="#7a00ce"/><stop offset="0.781" stop-color="#6400e3"/><stop offset="1.000" stop-color="#4e00f9"/></linearGradient><linearGradient id="s213" gradientUnits="userSpaceOnUse" x1="273.6" y1="347.6" x2="466.8" y2="246.3"><stop offset="0.000" stop-color="#680085"/><stop offset="0.284" stop-color="#7500ab"/><stop offset="0.543" stop-color="#7b00cd"/><stop offset="0.781" stop-color="#6500e3"/><stop offset="1.000" stop-color="#4e00f9"/></linearGradient><linearGradient id="s214" gradientUnits="userSpaceOnUse" x1="274.6" y1="348" x2="467.8" y2="246.6"><stop offset="0.000" stop-color="#680085"/><stop offset="0.284" stop-color="#7500aa"/><stop offset="0.544" stop-color="#7b00cd"/><stop offset="0.781" stop-color="#6500e2"/><stop offset="1.000" stop-color="#4f00f8"/></linearGradient><linearGradient id="s215" gradientUnits="userSpaceOnUse" x1="275.7" y1="348.4" x2="468.8" y2="247"><stop offset="0.000" stop-color="#670084"/><stop offset="0.284" stop-color="#7500aa"/><stop offset="0.544" stop-color="#7c00cc"/><stop offset="0.781" stop-color="#6600e2"/><stop offset="1.000" stop-color="#5000f8"/></linearGradient><linearGradient id="s216" gradientUnits="userSpaceOnUse" x1="276.8" y1="348.8" x2="469.9" y2="247.3"><stop offset="0.000" stop-color="#670084"/><stop offset="0.284" stop-color="#7500a9"/><stop offset="0.544" stop-color="#7c00cc"/><stop offset="0.781" stop-color="#6600e1"/><stop offset="1.000" stop-color="#5000f7"/></linearGradient><linearGradient id="s217" gradientUnits="userSpaceOnUse" x1="277.9" y1="349.2" x2="470.9" y2="247.6"><stop offset="0.000" stop-color="#670083"/><stop offset="0.284" stop-color="#7500a9"/><stop offset="0.544" stop-color="#7d00cb"/><stop offset="0.781" stop-color="#6700e1"/><stop offset="1.000" stop-color="#5100f6"/></linearGradient><linearGradient id="s218" gradientUnits="userSpaceOnUse" x1="279" y1="349.6" x2="471.9" y2="248"><stop offset="0.000" stop-color="#670083"/><stop offset="0.284" stop-color="#7400a8"/><stop offset="0.544" stop-color="#7d00cb"/><stop offset="0.781" stop-color="#6700e0"/><stop offset="1.000" stop-color="#5200f6"/></linearGradient><linearGradient id="s219" gradientUnits="userSpaceOnUse" x1="280.1" y1="350" x2="472.9" y2="248.3"><stop offset="0.000" stop-color="#670082"/><stop offset="0.284" stop-color="#7400a7"/><stop offset="0.544" stop-color="#7e00ca"/><stop offset="0.781" stop-color="#6800e0"/><stop offset="1.000" stop-color="#5200f5"/></linearGradient><linearGradient id="s220" gradientUnits="userSpaceOnUse" x1="281.2" y1="350.4" x2="474" y2="248.7"><stop offset="0.000" stop-color="#660082"/><stop offset="0.284" stop-color="#7400a6"/><stop offset="0.544" stop-color="#7e00ca"/><stop offset="0.781" stop-color="#6900df"/><stop offset="1.000" stop-color="#5300f4"/></linearGradient><linearGradient id="s221" gradientUnits="userSpaceOnUse" x1="282.3" y1="350.9" x2="475" y2="249"><stop offset="0.000" stop-color="#660081"/><stop offset="0.284" stop-color="#7300a6"/><stop offset="0.544" stop-color="#7f00c9"/><stop offset="0.781" stop-color="#6900de"/><stop offset="1.000" stop-color="#5400f4"/></linearGradient><linearGradient id="s222" gradientUnits="userSpaceOnUse" x1="283.3" y1="351.3" x2="476" y2="249.4"><stop offset="0.000" stop-color="#660080"/><stop offset="0.284" stop-color="#7300a5"/><stop offset="0.544" stop-color="#7f00c9"/><stop offset="0.781" stop-color="#6a00de"/><stop offset="1.000" stop-color="#5400f3"/></linearGradient><linearGradient id="s223" gradientUnits="userSpaceOnUse" x1="284.4" y1="351.7" x2="477" y2="249.7"><stop offset="0.000" stop-color="#660080"/><stop offset="0.284" stop-color="#7300a4"/><stop offset="0.544" stop-color="#8000c8"/><stop offset="0.781" stop-color="#6a00dd"/><stop offset="1.000" stop-color="#5500f2"/></linearGradient><linearGradient id="s224" gradientUnits="userSpaceOnUse" x1="285.5" y1="352.2" x2="478.1" y2="250.1"><stop offset="0.000" stop-color="#65007f"/><stop offset="0.284" stop-color="#7200a3"/><stop offset="0.544" stop-color="#8000c7"/><stop offset="0.781" stop-color="#6b00dc"/><stop offset="1.000" stop-color="#5600f2"/></linearGradient><linearGradient id="s225" gradientUnits="userSpaceOnUse" x1="286.6" y1="352.6" x2="479.1" y2="250.4"><stop offset="0.000" stop-color="#65007e"/><stop offset="0.284" stop-color="#7200a2"/><stop offset="0.544" stop-color="#7f00c6"/><stop offset="0.781" stop-color="#6c00dc"/><stop offset="1.000" stop-color="#5700f1"/></linearGradient><linearGradient id="s226" gradientUnits="userSpaceOnUse" x1="287.7" y1="353.1" x2="480.1" y2="250.8"><stop offset="0.000" stop-color="#65007d"/><stop offset="0.284" stop-color="#7200a1"/><stop offset="0.544" stop-color="#7f00c5"/><stop offset="0.781" stop-color="#6d00db"/><stop offset="1.000" stop-color="#5700f0"/></linearGradient><linearGradient id="s227" gradientUnits="userSpaceOnUse" x1="288.8" y1="353.6" x2="481.2" y2="251.2"><stop offset="0.000" stop-color="#64007b"/><stop offset="0.284" stop-color="#71009f"/><stop offset="0.544" stop-color="#7e00c3"/><stop offset="0.782" stop-color="#6d00da"/><stop offset="1.000" stop-color="#5800ef"/></linearGradient><linearGradient id="s228" gradientUnits="userSpaceOnUse" x1="289.9" y1="354.1" x2="482.2" y2="251.5"><stop offset="0.000" stop-color="#64007a"/><stop offset="0.284" stop-color="#71009e"/><stop offset="0.544" stop-color="#7e00c2"/><stop offset="0.782" stop-color="#6e00d9"/><stop offset="1.000" stop-color="#5900ee"/></linearGradient><linearGradient id="s229" gradientUnits="userSpaceOnUse" x1="291" y1="354.6" x2="483.2" y2="251.9"><stop offset="0.000" stop-color="#630079"/><stop offset="0.284" stop-color="#70009d"/><stop offset="0.544" stop-color="#7d00c1"/><stop offset="0.782" stop-color="#6f00d9"/><stop offset="1.000" stop-color="#5a00ed"/></linearGradient></defs><g stroke-width="0.8" stroke-linejoin="round"><path d="M64.3 129.3L65.2 131.2L272.1 68.4L271.3 66.6z" fill="url(#s0)" stroke="url(#s0)"/><path d="M65.2 131.2L66.2 133.2L273 70.3L272.1 68.4z" fill="url(#s1)" stroke="url(#s1)"/><path d="M66.2 133.2L67.1 135.2L273.8 72.1L273 70.3z" fill="url(#s2)" stroke="url(#s2)"/><path d="M67.1 135.2L68 137.2L274.7 73.9L273.8 72.1z" fill="url(#s3)" stroke="url(#s3)"/><path d="M68 137.2L68.9 139.3L275.5 75.8L274.7 73.9z" fill="url(#s4)" stroke="url(#s4)"/><path d="M68.9 139.3L69.9 141.3L276.3 77.6L275.5 75.8z" fill="url(#s5)" stroke="url(#s5)"/><path d="M69.9 141.3L70.8 143.3L277.2 79.4L276.3 77.6z" fill="url(#s6)" stroke="url(#s6)"/><path d="M70.8 143.3L71.7 145.4L278 81.2L277.2 79.4z" fill="url(#s7)" stroke="url(#s7)"/><path d="M71.7 145.4L72.7 147.4L278.9 83L278 81.2z" fill="url(#s8)" stroke="url(#s8)"/><path d="M72.7 147.4L73.6 149.5L279.7 84.7L278.9 83z" fill="url(#s9)" stroke="url(#s9)"/><path d="M73.6 149.5L74.5 151.6L280.6 86.5L279.7 84.7z" fill="url(#s10)" stroke="url(#s10)"/><path d="M74.5 151.6L75.5 153.6L281.4 88.2L280.6 86.5z" fill="url(#s11)" stroke="url(#s11)"/><path d="M75.5 153.6L76.4 155.7L282.2 90L281.4 88.2z" fill="url(#s12)" stroke="url(#s12)"/><path d="M76.4 155.7L77.3 157.8L283.1 91.7L282.2 90z" fill="url(#s13)" stroke="url(#s13)"/><path d="M77.3 157.8L78.3 159.8L283.9 93.4L283.1 91.7z" fill="url(#s14)" stroke="url(#s14)"/><path d="M78.3 159.8L79.2 161.9L284.8 95.1L283.9 93.4z" fill="url(#s15)" stroke="url(#s15)"/><path d="M79.2 161.9L80.2 163.9L285.6 96.8L284.8 95.1z" fill="url(#s16)" stroke="url(#s16)"/><path d="M80.2 163.9L81.1 166L286.5 98.5L285.6 96.8z" fill="url(#s17)" stroke="url(#s17)"/><path d="M81.1 166L82 168L287.3 100.1L286.5 98.5z" fill="url(#s18)" stroke="url(#s18)"/><path d="M82 168L83 170L288.2 101.8L287.3 100.1z" fill="url(#s19)" stroke="url(#s19)"/><path d="M83 170L83.9 172.1L289 103.4L288.2 101.8z" fill="url(#s20)" stroke="url(#s20)"/><path d="M83.9 172.1L84.8 174.1L289.9 105L289 103.4z" fill="url(#s21)" stroke="url(#s21)"/><path d="M84.8 174.1L85.8 176.1L290.7 106.6L289.9 105z" fill="url(#s22)" stroke="url(#s22)"/><path d="M85.8 176.1L86.7 178.1L291.6 108.2L290.7 106.6z" fill="url(#s23)" stroke="url(#s23)"/><path d="M86.7 178.1L87.6 180L292.4 109.8L291.6 108.2z" fill="url(#s24)" stroke="url(#s24)"/><path d="M87.6 180L88.6 182L293.3 111.4L292.4 109.8z" fill="url(#s25)" stroke="url(#s25)"/><path d="M88.6 182L89.5 183.9L294.1 112.9L293.3 111.4z" fill="url(#s26)" stroke="url(#s26)"/><path d="M89.5 183.9L90.5 185.9L295 114.4L294.1 112.9z" fill="url(#s27)" stroke="url(#s27)"/><path d="M90.5 185.9L91.4 187.8L295.8 116L295 114.4z" fill="url(#s28)" stroke="url(#s28)"/><path d="M91.4 187.8L92.3 189.7L296.7 117.5L295.8 116z" fill="url(#s29)" stroke="url(#s29)"/><path d="M92.3 189.7L93.3 191.6L297.5 118.9L296.7 117.5z" fill="url(#s30)" stroke="url(#s30)"/><path d="M93.3 191.6L94.2 193.4L298.4 120.4L297.5 118.9z" fill="url(#s31)" stroke="url(#s31)"/><path d="M94.2 193.4L95.1 195.3L299.2 121.9L298.4 120.4z" fill="url(#s32)" stroke="url(#s32)"/><path d="M95.1 195.3L96.1 197.1L300.1 123.3L299.2 121.9z" fill="url(#s33)" stroke="url(#s33)"/><path d="M96.1 197.1L97 198.9L300.9 124.7L300.1 123.3z" fill="url(#s34)" stroke="url(#s34)"/><path d="M97 198.9L98 200.7L301.8 126.1L300.9 124.7z" fill="url(#s35)" stroke="url(#s35)"/><path d="M98 200.7L98.9 202.5L302.6 127.5L301.8 126.1z" fill="url(#s36)" stroke="url(#s36)"/><path d="M98.9 202.5L99.8 204.2L303.5 128.9L302.6 127.5z" fill="url(#s37)" stroke="url(#s37)"/><path d="M99.8 204.2L100.8 206L304.4 130.3L303.5 128.9z" fill="url(#s38)" stroke="url(#s38)"/><path d="M100.8 206L101.7 207.7L305.2 131.6L304.4 130.3z" fill="url(#s39)" stroke="url(#s39)"/><path d="M101.7 207.7L102.6 209.4L306.1 132.9L305.2 131.6z" fill="url(#s40)" stroke="url(#s40)"/><path d="M102.6 209.4L103.6 211L306.9 134.3L306.1 132.9z" fill="url(#s41)" stroke="url(#s41)"/><path d="M103.6 211L104.5 212.7L307.8 135.6L306.9 134.3z" fill="url(#s42)" stroke="url(#s42)"/><path d="M104.5 212.7L105.4 214.3L308.7 136.8L307.8 135.6z" fill="url(#s43)" stroke="url(#s43)"/><path d="M105.4 214.3L106.4 216L309.5 138.1L308.7 136.8z" fill="url(#s44)" stroke="url(#s44)"/><path d="M106.4 216L107.3 217.5L310.4 139.4L309.5 138.1z" fill="url(#s45)" stroke="url(#s45)"/><path d="M107.3 217.5L108.2 219.1L311.2 140.6L310.4 139.4z" fill="url(#s46)" stroke="url(#s46)"/><path d="M108.2 219.1L109.2 220.7L312.1 141.8L311.2 140.6z" fill="url(#s47)" stroke="url(#s47)"/><path d="M109.2 220.7L110.1 222.2L313 143.1L312.1 141.8z" fill="url(#s48)" stroke="url(#s48)"/><path d="M110.1 222.2L111.1 223.7L313.8 144.3L313 143.1z" fill="url(#s49)" stroke="url(#s49)"/><path d="M111.1 223.7L112 225.2L314.7 145.4L313.8 144.3z" fill="url(#s50)" stroke="url(#s50)"/><path d="M112 225.2L112.9 226.7L315.6 146.6L314.7 145.4z" fill="url(#s51)" stroke="url(#s51)"/><path d="M112.9 226.7L113.9 228.1L316.4 147.8L315.6 146.6z" fill="url(#s52)" stroke="url(#s52)"/><path d="M113.9 228.1L114.8 229.5L317.3 148.9L316.4 147.8z" fill="url(#s53)" stroke="url(#s53)"/><path d="M114.8 229.5L115.7 231L318.2 150L317.3 148.9z" fill="url(#s54)" stroke="url(#s54)"/><path d="M115.7 231L116.7 232.3L319 151.1L318.2 150z" fill="url(#s55)" stroke="url(#s55)"/><path d="M116.7 232.3L117.6 233.7L319.9 152.2L319 151.1z" fill="url(#s56)" stroke="url(#s56)"/><path d="M117.6 233.7L118.5 235.1L320.8 153.3L319.9 152.2z" fill="url(#s57)" stroke="url(#s57)"/><path d="M118.5 235.1L119.5 236.4L321.6 154.4L320.8 153.3z" fill="url(#s58)" stroke="url(#s58)"/><path d="M119.5 236.4L120.4 237.7L322.5 155.5L321.6 154.4z" fill="url(#s59)" stroke="url(#s59)"/><path d="M120.4 237.7L121.4 239L323.4 156.5L322.5 155.5z" fill="url(#s60)" stroke="url(#s60)"/><path d="M121.4 239L122.3 240.3L324.3 157.5L323.4 156.5z" fill="url(#s61)" stroke="url(#s61)"/><path d="M122.3 240.3L123.2 241.5L325.1 158.6L324.3 157.5z" fill="url(#s62)" stroke="url(#s62)"/><path d="M123.2 241.5L124.2 242.8L326 159.6L325.1 158.6z" fill="url(#s63)" stroke="url(#s63)"/><path d="M124.2 242.8L125.1 244L326.9 160.6L326 159.6z" fill="url(#s64)" stroke="url(#s64)"/><path d="M125.1 244L126 245.2L327.8 161.6L326.9 160.6z" fill="url(#s65)" stroke="url(#s65)"/><path d="M126 245.2L127 246.4L328.6 162.5L327.8 161.6z" fill="url(#s66)" stroke="url(#s66)"/><path d="M127 246.4L127.9 247.5L329.5 163.5L328.6 162.5z" fill="url(#s67)" stroke="url(#s67)"/><path d="M127.9 247.5L128.9 248.7L330.4 164.5L329.5 163.5z" fill="url(#s68)" stroke="url(#s68)"/><path d="M128.9 248.7L129.8 249.8L331.3 165.4L330.4 164.5z" fill="url(#s69)" stroke="url(#s69)"/><path d="M129.8 249.8L130.7 250.9L332.1 166.3L331.3 165.4z" fill="url(#s70)" stroke="url(#s70)"/><path d="M130.7 250.9L131.7 252L333 167.2L332.1 166.3z" fill="url(#s71)" stroke="url(#s71)"/><path d="M131.7 252L132.6 253.1L333.9 168.2L333 167.2z" fill="url(#s72)" stroke="url(#s72)"/><path d="M132.6 253.1L133.6 254.2L334.8 169.1L333.9 168.2z" fill="url(#s73)" stroke="url(#s73)"/><path d="M133.6 254.2L134.5 255.2L335.7 169.9L334.8 169.1z" fill="url(#s74)" stroke="url(#s74)"/><path d="M134.5 255.2L135.5 256.3L336.6 170.8L335.7 169.9z" fill="url(#s75)" stroke="url(#s75)"/><path d="M135.5 256.3L136.4 257.3L337.4 171.7L336.6 170.8z" fill="url(#s76)" stroke="url(#s76)"/><path d="M136.4 257.3L137.3 258.3L338.3 172.5L337.4 171.7z" fill="url(#s77)" stroke="url(#s77)"/><path d="M137.3 258.3L138.3 259.3L339.2 173.4L338.3 172.5z" fill="url(#s78)" stroke="url(#s78)"/><path d="M138.3 259.3L139.2 260.3L340.1 174.2L339.2 173.4z" fill="url(#s79)" stroke="url(#s79)"/><path d="M139.2 260.3L140.2 261.3L341 175.1L340.1 174.2z" fill="url(#s80)" stroke="url(#s80)"/><path d="M140.2 261.3L141.1 262.2L341.9 175.9L341 175.1z" fill="url(#s81)" stroke="url(#s81)"/><path d="M141.1 262.2L142.1 263.2L342.8 176.7L341.9 175.9z" fill="url(#s82)" stroke="url(#s82)"/><path d="M142.1 263.2L143 264.1L343.7 177.5L342.8 176.7z" fill="url(#s83)" stroke="url(#s83)"/><path d="M143 264.1L144 265L344.6 178.3L343.7 177.5z" fill="url(#s84)" stroke="url(#s84)"/><path d="M144 265L144.9 266L345.5 179.1L344.6 178.3z" fill="url(#s85)" stroke="url(#s85)"/><path d="M144.9 266L145.9 266.9L346.3 179.9L345.5 179.1z" fill="url(#s86)" stroke="url(#s86)"/><path d="M145.9 266.9L146.8 267.7L347.2 180.6L346.3 179.9z" fill="url(#s87)" stroke="url(#s87)"/><path d="M146.8 267.7L147.8 268.6L348.1 181.4L347.2 180.6z" fill="url(#s88)" stroke="url(#s88)"/><path d="M147.8 268.6L148.7 269.5L349 182.1L348.1 181.4z" fill="url(#s89)" stroke="url(#s89)"/><path d="M148.7 269.5L149.7 270.4L349.9 182.9L349 182.1z" fill="url(#s90)" stroke="url(#s90)"/><path d="M149.7 270.4L150.6 271.2L350.8 183.6L349.9 182.9z" fill="url(#s91)" stroke="url(#s91)"/><path d="M150.6 271.2L151.6 272.1L351.7 184.4L350.8 183.6z" fill="url(#s92)" stroke="url(#s92)"/><path d="M151.6 272.1L152.5 272.9L352.6 185.1L351.7 184.4z" fill="url(#s93)" stroke="url(#s93)"/><path d="M152.5 272.9L153.5 273.7L353.5 185.8L352.6 185.1z" fill="url(#s94)" stroke="url(#s94)"/><path d="M153.5 273.7L154.4 274.5L354.4 186.5L353.5 185.8z" fill="url(#s95)" stroke="url(#s95)"/><path d="M154.4 274.5L155.4 275.4L355.3 187.3L354.4 186.5z" fill="url(#s96)" stroke="url(#s96)"/><path d="M155.4 275.4L156.3 276.2L356.2 188L355.3 187.3z" fill="url(#s97)" stroke="url(#s97)"/><path d="M156.3 276.2L157.3 277L357.1 188.7L356.2 188z" fill="url(#s98)" stroke="url(#s98)"/><path d="M157.3 277L158.3 277.7L358 189.3L357.1 188.7z" fill="url(#s99)" stroke="url(#s99)"/><path d="M158.3 277.7L159.2 278.5L358.9 190L358 189.3z" fill="url(#s100)" stroke="url(#s100)"/><path d="M159.2 278.5L160.2 279.3L359.8 190.7L358.9 190z" fill="url(#s101)" stroke="url(#s101)"/><path d="M160.2 279.3L161.1 280.1L360.8 191.4L359.8 190.7z" fill="url(#s102)" stroke="url(#s102)"/><path d="M161.1 280.1L162.1 280.9L361.7 192.1L360.8 191.4z" fill="url(#s103)" stroke="url(#s103)"/><path d="M162.1 280.9L163.1 281.6L362.6 192.7L361.7 192.1z" fill="url(#s104)" stroke="url(#s104)"/><path d="M163.1 281.6L164 282.4L363.5 193.4L362.6 192.7z" fill="url(#s105)" stroke="url(#s105)"/><path d="M164 282.4L165 283.1L364.4 194L363.5 193.4z" fill="url(#s106)" stroke="url(#s106)"/><path d="M165 283.1L165.9 283.9L365.3 194.7L364.4 194z" fill="url(#s107)" stroke="url(#s107)"/><path d="M165.9 283.9L166.9 284.6L366.2 195.3L365.3 194.7z" fill="url(#s108)" stroke="url(#s108)"/><path d="M166.9 284.6L167.9 285.4L367.1 196L366.2 195.3z" fill="url(#s109)" stroke="url(#s109)"/><path d="M167.9 285.4L168.8 286.1L368 196.6L367.1 196z" fill="url(#s110)" stroke="url(#s110)"/><path d="M168.8 286.1L169.8 286.8L369 197.3L368 196.6z" fill="url(#s111)" stroke="url(#s111)"/><path d="M169.8 286.8L170.8 287.6L369.9 197.9L369 197.3z" fill="url(#s112)" stroke="url(#s112)"/><path d="M170.8 287.6L171.8 288.3L370.8 198.5L369.9 197.9z" fill="url(#s113)" stroke="url(#s113)"/><path d="M171.8 288.3L172.7 289L371.7 199.1L370.8 198.5z" fill="url(#s114)" stroke="url(#s114)"/><path d="M172.7 289L173.7 289.7L372.6 199.8L371.7 199.1z" fill="url(#s115)" stroke="url(#s115)"/><path d="M173.7 289.7L174.7 290.5L373.5 200.4L372.6 199.8z" fill="url(#s116)" stroke="url(#s116)"/><path d="M174.7 290.5L175.6 291.2L374.5 201L373.5 200.4z" fill="url(#s117)" stroke="url(#s117)"/><path d="M175.6 291.2L176.6 291.9L375.4 201.6L374.5 201z" fill="url(#s118)" stroke="url(#s118)"/><path d="M176.6 291.9L177.6 292.6L376.3 202.2L375.4 201.6z" fill="url(#s119)" stroke="url(#s119)"/><path d="M177.6 292.6L178.6 293.3L377.2 202.8L376.3 202.2z" fill="url(#s120)" stroke="url(#s120)"/><path d="M178.6 293.3L179.5 294L378.2 203.4L377.2 202.8z" fill="url(#s121)" stroke="url(#s121)"/><path d="M179.5 294L180.5 294.7L379.1 204L378.2 203.4z" fill="url(#s122)" stroke="url(#s122)"/><path d="M180.5 294.7L181.5 295.4L380 204.6L379.1 204z" fill="url(#s123)" stroke="url(#s123)"/><path d="M181.5 295.4L182.5 296.1L380.9 205.2L380 204.6z" fill="url(#s124)" stroke="url(#s124)"/><path d="M182.5 296.1L183.5 296.8L381.9 205.8L380.9 205.2z" fill="url(#s125)" stroke="url(#s125)"/><path d="M183.5 296.8L184.5 297.6L382.8 206.4L381.9 205.8z" fill="url(#s126)" stroke="url(#s126)"/><path d="M184.5 297.6L185.4 298.3L383.7 207L382.8 206.4z" fill="url(#s127)" stroke="url(#s127)"/><path d="M185.4 298.3L186.4 299L384.6 207.5L383.7 207z" fill="url(#s128)" stroke="url(#s128)"/><path d="M186.4 299L187.4 299.7L385.6 208.1L384.6 207.5z" fill="url(#s129)" stroke="url(#s129)"/><path d="M187.4 299.7L188.4 300.3L386.5 208.7L385.6 208.1z" fill="url(#s130)" stroke="url(#s130)"/><path d="M188.4 300.3L189.4 301L387.4 209.3L386.5 208.7z" fill="url(#s131)" stroke="url(#s131)"/><path d="M189.4 301L190.4 301.7L388.4 209.8L387.4 209.3z" fill="url(#s132)" stroke="url(#s132)"/><path d="M190.4 301.7L191.4 302.4L389.3 210.4L388.4 209.8z" fill="url(#s133)" stroke="url(#s133)"/><path d="M191.4 302.4L192.4 303.1L390.2 211L389.3 210.4z" fill="url(#s134)" stroke="url(#s134)"/><path d="M192.4 303.1L193.3 303.8L391.2 211.5L390.2 211z" fill="url(#s135)" stroke="url(#s135)"/><path d="M193.3 303.8L194.3 304.5L392.1 212.1L391.2 211.5z" fill="url(#s136)" stroke="url(#s136)"/><path d="M194.3 304.5L195.3 305.2L393.1 212.6L392.1 212.1z" fill="url(#s137)" stroke="url(#s137)"/><path d="M195.3 305.2L196.3 305.9L394 213.2L393.1 212.6z" fill="url(#s138)" stroke="url(#s138)"/><path d="M196.3 305.9L197.3 306.6L394.9 213.7L394 213.2z" fill="url(#s139)" stroke="url(#s139)"/><path d="M197.3 306.6L198.3 307.3L395.9 214.3L394.9 213.7z" fill="url(#s140)" stroke="url(#s140)"/><path d="M198.3 307.3L199.3 308L396.8 214.8L395.9 214.3z" fill="url(#s141)" stroke="url(#s141)"/><path d="M199.3 308L200.3 308.7L397.8 215.4L396.8 214.8z" fill="url(#s142)" stroke="url(#s142)"/><path d="M200.3 308.7L201.3 309.3L398.7 215.9L397.8 215.4z" fill="url(#s143)" stroke="url(#s143)"/><path d="M201.3 309.3L202.3 310L399.7 216.5L398.7 215.9z" fill="url(#s144)" stroke="url(#s144)"/><path d="M202.3 310L203.3 310.7L400.6 217L399.7 216.5z" fill="url(#s145)" stroke="url(#s145)"/><path d="M203.3 310.7L204.3 311.4L401.5 217.5L400.6 217z" fill="url(#s146)" stroke="url(#s146)"/><path d="M204.3 311.4L205.3 312.1L402.5 218.1L401.5 217.5z" fill="url(#s147)" stroke="url(#s147)"/><path d="M205.3 312.1L206.3 312.7L403.4 218.6L402.5 218.1z" fill="url(#s148)" stroke="url(#s148)"/><path d="M206.3 312.7L207.3 313.4L404.4 219.1L403.4 218.6z" fill="url(#s149)" stroke="url(#s149)"/><path d="M207.3 313.4L208.3 314.1L405.3 219.7L404.4 219.1z" fill="url(#s150)" stroke="url(#s150)"/><path d="M208.3 314.1L209.4 314.8L406.3 220.2L405.3 219.7z" fill="url(#s151)" stroke="url(#s151)"/><path d="M209.4 314.8L210.4 315.4L407.2 220.7L406.3 220.2z" fill="url(#s152)" stroke="url(#s152)"/><path d="M210.4 315.4L211.4 316.1L408.2 221.2L407.2 220.7z" fill="url(#s153)" stroke="url(#s153)"/><path d="M211.4 316.1L212.4 316.8L409.2 221.7L408.2 221.2z" fill="url(#s154)" stroke="url(#s154)"/><path d="M212.4 316.8L213.4 317.4L410.1 222.3L409.2 221.7z" fill="url(#s155)" stroke="url(#s155)"/><path d="M213.4 317.4L214.4 318.1L411.1 222.8L410.1 222.3z" fill="url(#s156)" stroke="url(#s156)"/><path d="M214.4 318.1L215.4 318.8L412 223.3L411.1 222.8z" fill="url(#s157)" stroke="url(#s157)"/><path d="M215.4 318.8L216.4 319.4L413 223.8L412 223.3z" fill="url(#s158)" stroke="url(#s158)"/><path d="M216.4 319.4L217.5 320.1L413.9 224.3L413 223.8z" fill="url(#s159)" stroke="url(#s159)"/><path d="M217.5 320.1L218.5 320.7L414.9 224.8L413.9 224.3z" fill="url(#s160)" stroke="url(#s160)"/><path d="M218.5 320.7L219.5 321.4L415.9 225.3L414.9 224.8z" fill="url(#s161)" stroke="url(#s161)"/><path d="M219.5 321.4L220.5 322L416.8 225.8L415.9 225.3z" fill="url(#s162)" stroke="url(#s162)"/><path d="M220.5 322L221.5 322.6L417.8 226.2L416.8 225.8z" fill="url(#s163)" stroke="url(#s163)"/><path d="M221.5 322.6L222.6 323.3L418.7 226.7L417.8 226.2z" fill="url(#s164)" stroke="url(#s164)"/><path d="M222.6 323.3L223.6 323.9L419.7 227.2L418.7 226.7z" fill="url(#s165)" stroke="url(#s165)"/><path d="M223.6 323.9L224.6 324.5L420.7 227.7L419.7 227.2z" fill="url(#s166)" stroke="url(#s166)"/><path d="M224.6 324.5L225.6 325.2L421.6 228.2L420.7 227.7z" fill="url(#s167)" stroke="url(#s167)"/><path d="M225.6 325.2L226.7 325.8L422.6 228.6L421.6 228.2z" fill="url(#s168)" stroke="url(#s168)"/><path d="M226.7 325.8L227.7 326.4L423.6 229.1L422.6 228.6z" fill="url(#s169)" stroke="url(#s169)"/><path d="M227.7 326.4L228.7 327L424.6 229.6L423.6 229.1z" fill="url(#s170)" stroke="url(#s170)"/><path d="M228.7 327L229.7 327.6L425.5 230L424.6 229.6z" fill="url(#s171)" stroke="url(#s171)"/><path d="M229.7 327.6L230.8 328.2L426.5 230.5L425.5 230z" fill="url(#s172)" stroke="url(#s172)"/><path d="M230.8 328.2L231.8 328.8L427.5 231L426.5 230.5z" fill="url(#s173)" stroke="url(#s173)"/><path d="M231.8 328.8L232.8 329.4L428.4 231.4L427.5 231z" fill="url(#s174)" stroke="url(#s174)"/><path d="M232.8 329.4L233.9 330L429.4 231.9L428.4 231.4z" fill="url(#s175)" stroke="url(#s175)"/><path d="M233.9 330L234.9 330.5L430.4 232.3L429.4 231.9z" fill="url(#s176)" stroke="url(#s176)"/><path d="M234.9 330.5L235.9 331.1L431.4 232.8L430.4 232.3z" fill="url(#s177)" stroke="url(#s177)"/><path d="M235.9 331.1L237 331.7L432.4 233.2L431.4 232.8z" fill="url(#s178)" stroke="url(#s178)"/><path d="M237 331.7L238 332.2L433.3 233.6L432.4 233.2z" fill="url(#s179)" stroke="url(#s179)"/><path d="M238 332.2L239.1 332.8L434.3 234.1L433.3 233.6z" fill="url(#s180)" stroke="url(#s180)"/><path d="M239.1 332.8L240.1 333.3L435.3 234.5L434.3 234.1z" fill="url(#s181)" stroke="url(#s181)"/><path d="M240.1 333.3L241.2 333.9L436.3 234.9L435.3 234.5z" fill="url(#s182)" stroke="url(#s182)"/><path d="M241.2 333.9L242.2 334.4L437.3 235.3L436.3 234.9z" fill="url(#s183)" stroke="url(#s183)"/><path d="M242.2 334.4L243.2 334.9L438.3 235.8L437.3 235.3z" fill="url(#s184)" stroke="url(#s184)"/><path d="M243.2 334.9L244.3 335.5L439.2 236.2L438.3 235.8z" fill="url(#s185)" stroke="url(#s185)"/><path d="M244.3 335.5L245.3 336L440.2 236.6L439.2 236.2z" fill="url(#s186)" stroke="url(#s186)"/><path d="M245.3 336L246.4 336.5L441.2 237L440.2 236.6z" fill="url(#s187)" stroke="url(#s187)"/><path d="M246.4 336.5L247.4 337L442.2 237.4L441.2 237z" fill="url(#s188)" stroke="url(#s188)"/><path d="M247.4 337L248.5 337.5L443.2 237.8L442.2 237.4z" fill="url(#s189)" stroke="url(#s189)"/><path d="M248.5 337.5L249.5 338L444.2 238.2L443.2 237.8z" fill="url(#s190)" stroke="url(#s190)"/><path d="M249.5 338L250.6 338.5L445.2 238.6L444.2 238.2z" fill="url(#s191)" stroke="url(#s191)"/><path d="M250.6 338.5L251.6 338.9L446.2 239L445.2 238.6z" fill="url(#s192)" stroke="url(#s192)"/><path d="M251.6 338.9L252.7 339.4L447.2 239.3L446.2 239z" fill="url(#s193)" stroke="url(#s193)"/><path d="M252.7 339.4L253.8 339.9L448.2 239.7L447.2 239.3z" fill="url(#s194)" stroke="url(#s194)"/><path d="M253.8 339.9L254.8 340.3L449.2 240.1L448.2 239.7z" fill="url(#s195)" stroke="url(#s195)"/><path d="M254.8 340.3L255.9 340.8L450.2 240.5L449.2 240.1z" fill="url(#s196)" stroke="url(#s196)"/><path d="M255.9 340.8L256.9 341.2L451.2 240.8L450.2 240.5z" fill="url(#s197)" stroke="url(#s197)"/><path d="M256.9 341.2L258 341.7L452.2 241.2L451.2 240.8z" fill="url(#s198)" stroke="url(#s198)"/><path d="M258 341.7L259.1 342.1L453.2 241.6L452.2 241.2z" fill="url(#s199)" stroke="url(#s199)"/><path d="M259.1 342.1L260.1 342.6L454.2 241.9L453.2 241.6z" fill="url(#s200)" stroke="url(#s200)"/><path d="M260.1 342.6L261.2 343L455.2 242.3L454.2 241.9z" fill="url(#s201)" stroke="url(#s201)"/><path d="M261.2 343L262.3 343.4L456.2 242.7L455.2 242.3z" fill="url(#s202)" stroke="url(#s202)"/><path d="M262.3 343.4L263.3 343.8L457.2 243L456.2 242.7z" fill="url(#s203)" stroke="url(#s203)"/><path d="M263.3 343.8L264.4 344.2L458.2 243.4L457.2 243z" fill="url(#s204)" stroke="url(#s204)"/><path d="M264.4 344.2L265.5 344.6L459.2 243.7L458.2 243.4z" fill="url(#s205)" stroke="url(#s205)"/><path d="M265.5 344.6L266.5 345L460.2 244.1L459.2 243.7z" fill="url(#s206)" stroke="url(#s206)"/><path d="M266.5 345L267.6 345.4L461.2 244.4L460.2 244.1z" fill="url(#s207)" stroke="url(#s207)"/><path d="M267.6 345.4L268.7 345.8L462.2 244.8L461.2 244.4z" fill="url(#s208)" stroke="url(#s208)"/><path d="M268.7 345.8L269.8 346.2L463.3 245.1L462.2 244.8z" fill="url(#s209)" stroke="url(#s209)"/><path d="M269.8 346.2L270.9 346.6L464.3 245.4L463.3 245.1z" fill="url(#s210)" stroke="url(#s210)"/><path d="M270.9 346.6L271.9 347L465.3 245.8L464.3 245.4z" fill="url(#s211)" stroke="url(#s211)"/><path d="M271.9 347L273 347.4L466.3 246.1L465.3 245.8z" fill="url(#s212)" stroke="url(#s212)"/><path d="M273 347.4L274.1 347.8L467.3 246.5L466.3 246.1z" fill="url(#s213)" stroke="url(#s213)"/><path d="M274.1 347.8L275.2 348.2L468.3 246.8L467.3 246.5z" fill="url(#s214)" stroke="url(#s214)"/><path d="M275.2 348.2L276.3 348.6L469.4 247.1L468.3 246.8z" fill="url(#s215)" stroke="url(#s215)"/><path d="M276.3 348.6L277.3 349L470.4 247.5L469.4 247.1z" fill="url(#s216)" stroke="url(#s216)"/><path d="M277.3 349L278.4 349.4L471.4 247.8L470.4 247.5z" fill="url(#s217)" stroke="url(#s217)"/><path d="M278.4 349.4L279.5 349.8L472.4 248.2L471.4 247.8z" fill="url(#s218)" stroke="url(#s218)"/><path d="M279.5 349.8L280.6 350.2L473.4 248.5L472.4 248.2z" fill="url(#s219)" stroke="url(#s219)"/><path d="M280.6 350.2L281.7 350.7L474.5 248.8L473.4 248.5z" fill="url(#s220)" stroke="url(#s220)"/><path d="M281.7 350.7L282.8 351.1L475.5 249.2L474.5 248.8z" fill="url(#s221)" stroke="url(#s221)"/><path d="M282.8 351.1L283.9 351.5L476.5 249.5L475.5 249.2z" fill="url(#s222)" stroke="url(#s222)"/><path d="M283.9 351.5L285 351.9L477.6 249.9L476.5 249.5z" fill="url(#s223)" stroke="url(#s223)"/><path d="M285 351.9L286.1 352.4L478.6 250.2L477.6 249.9z" fill="url(#s224)" stroke="url(#s224)"/><path d="M286.1 352.4L287.2 352.9L479.6 250.6L478.6 250.2z" fill="url(#s225)" stroke="url(#s225)"/><path d="M287.2 352.9L288.3 353.3L480.6 251L479.6 250.6z" fill="url(#s226)" stroke="url(#s226)"/><path d="M288.3 353.3L289.4 353.8L481.7 251.3L480.6 251z" fill="url(#s227)" stroke="url(#s227)"/><path d="M289.4 353.8L290.5 354.3L482.7 251.7L481.7 251.3z" fill="url(#s228)" stroke="url(#s228)"/><path d="M290.5 354.3L291.6 354.8L483.7 252.1L482.7 251.7z" fill="url(#s229)" stroke="url(#s229)"/></g><g stroke="#000" fill="none"><line x1="51.5" y1="343.5" x2="39.5" y2="39.4" stroke="#000" stroke-width="1.2"/><line x1="51.5" y1="343.5" x2="291" y2="431" stroke="#000" stroke-width="1.2"/><line x1="291" y1="431" x2="480.3" y2="329.9" stroke="#000" stroke-width="1.2"/><line x1="51.5" y1="343.5" x2="47" y2="343.1" stroke-width="1.1"/><line x1="51" y1="331.5" x2="48.4" y2="331.3" stroke-width="1.1"/><line x1="50.6" y1="319.5" x2="46.1" y2="319" stroke-width="1.1"/><line x1="50.1" y1="307.4" x2="47.5" y2="307.1" stroke-width="1.1"/><line x1="49.6" y1="295.2" x2="45.1" y2="294.8" stroke-width="1.1"/><line x1="49.1" y1="283" x2="46.5" y2="282.7" stroke-width="1.1"/><line x1="48.6" y1="270.7" x2="44.1" y2="270.3" stroke-width="1.1"/><line x1="48.1" y1="258.4" x2="45.5" y2="258.1" stroke-width="1.1"/><line x1="47.7" y1="246" x2="43.2" y2="245.5" stroke-width="1.1"/><line x1="47.2" y1="233.5" x2="44.6" y2="233.3" stroke-width="1.1"/><line x1="46.7" y1="221" x2="42.2" y2="220.6" stroke-width="1.1"/><line x1="46.2" y1="208.5" x2="43.6" y2="208.2" stroke-width="1.1"/><line x1="45.7" y1="195.8" x2="41.2" y2="195.4" stroke-width="1.1"/><line x1="45.2" y1="183.2" x2="42.6" y2="182.9" stroke-width="1.1"/><line x1="44.7" y1="170.4" x2="40.2" y2="170" stroke-width="1.1"/><line x1="44.2" y1="157.6" x2="41.6" y2="157.3" stroke-width="1.1"/><line x1="43.7" y1="144.7" x2="39.2" y2="144.3" stroke-width="1.1"/><line x1="43.1" y1="131.8" x2="40.5" y2="131.5" stroke-width="1.1"/><line x1="42.6" y1="118.8" x2="38.1" y2="118.3" stroke-width="1.1"/><line x1="42.1" y1="105.7" x2="39.5" y2="105.5" stroke-width="1.1"/><line x1="41.6" y1="92.6" x2="37.1" y2="92.1" stroke-width="1.1"/><line x1="41.1" y1="79.4" x2="38.5" y2="79.1" stroke-width="1.1"/><line x1="40.6" y1="66.1" x2="36.1" y2="65.7" stroke-width="1.1"/><line x1="40" y1="52.8" x2="37.4" y2="52.6" stroke-width="1.1"/><line x1="39.5" y1="39.4" x2="35" y2="39" stroke-width="1.1"/><line x1="59" y1="346.2" x2="55.5" y2="349" stroke-width="1.2"/><line x1="69.1" y1="349.9" x2="67.1" y2="351.6" stroke-width="1.2"/><line x1="79.4" y1="353.7" x2="75.9" y2="356.5" stroke-width="1.2"/><line x1="89.8" y1="357.5" x2="87.8" y2="359.1" stroke-width="1.2"/><line x1="100.3" y1="361.3" x2="96.8" y2="364.1" stroke-width="1.2"/><line x1="111" y1="365.2" x2="109" y2="366.9" stroke-width="1.2"/><line x1="121.9" y1="369.2" x2="118.4" y2="372" stroke-width="1.2"/><line x1="132.9" y1="373.2" x2="130.8" y2="374.8" stroke-width="1.2"/><line x1="144" y1="377.3" x2="140.5" y2="380.1" stroke-width="1.2"/><line x1="155.3" y1="381.4" x2="153.3" y2="383" stroke-width="1.2"/><line x1="166.8" y1="385.6" x2="163.2" y2="388.4" stroke-width="1.2"/><line x1="178.4" y1="389.9" x2="176.4" y2="391.5" stroke-width="1.2"/><line x1="190.2" y1="394.2" x2="186.7" y2="397" stroke-width="1.2"/><line x1="202.1" y1="398.5" x2="200.1" y2="400.1" stroke-width="1.2"/><line x1="214.3" y1="403" x2="210.8" y2="405.8" stroke-width="1.2"/><line x1="226.6" y1="407.5" x2="224.6" y2="409.1" stroke-width="1.2"/><line x1="239.1" y1="412" x2="235.6" y2="414.8" stroke-width="1.2"/><line x1="251.8" y1="416.7" x2="249.8" y2="418.3" stroke-width="1.2"/><line x1="264.7" y1="421.4" x2="261.2" y2="424.2" stroke-width="1.2"/><line x1="277.7" y1="426.2" x2="275.7" y2="427.8" stroke-width="1.2"/><line x1="291" y1="431" x2="287.5" y2="433.8" stroke-width="1.2"/><line x1="291" y1="431" x2="294.6" y2="433.2" stroke-width="1.2"/><line x1="344.9" y1="402.2" x2="348.4" y2="404.4" stroke-width="1.2"/><line x1="394" y1="376" x2="397.6" y2="378.2" stroke-width="1.2"/><line x1="439" y1="351.9" x2="442.5" y2="354.1" stroke-width="1.2"/><line x1="480.3" y1="329.9" x2="483.9" y2="332" stroke-width="1.2"/></g><g font-family="'Liberation Serif',serif" fill="#555"><text transform="translate(44.7 351) rotate(-8) scale(0.82 1)" font-size="11.5" text-anchor="end" fill="#6a6a6a">16</text><text transform="translate(43.8 326.9) rotate(-8) scale(0.82 1)" font-size="11.5" text-anchor="end" fill="#6a6a6a">18</text><text transform="translate(42.8 302.5) rotate(-8) scale(0.82 1)" font-size="11.5" text-anchor="end" fill="#6a6a6a">20</text><text transform="translate(41.8 277.9) rotate(-8) scale(0.82 1)" font-size="11.5" text-anchor="end" fill="#6a6a6a">22</text><text transform="translate(40.9 253.1) rotate(-8) scale(0.82 1)" font-size="11.5" text-anchor="end" fill="#6a6a6a">24</text><text transform="translate(39.9 228) rotate(-8) scale(0.82 1)" font-size="11.5" text-anchor="end" fill="#6a6a6a">26</text><text transform="translate(38.9 202.7) rotate(-8) scale(0.82 1)" font-size="11.5" text-anchor="end" fill="#6a6a6a">28</text><text transform="translate(37.9 177.1) rotate(-8) scale(0.82 1)" font-size="11.5" text-anchor="end" fill="#6a6a6a">30</text><text transform="translate(36.9 151.3) rotate(-8) scale(0.82 1)" font-size="11.5" text-anchor="end" fill="#6a6a6a">32</text><text transform="translate(35.8 125.3) rotate(-8) scale(0.82 1)" font-size="11.5" text-anchor="end" fill="#6a6a6a">34</text><text transform="translate(34.8 99) rotate(-8) scale(0.82 1)" font-size="11.5" text-anchor="end" fill="#6a6a6a">36</text><text transform="translate(33.8 72.5) rotate(-8) scale(0.82 1)" font-size="11.5" text-anchor="end" fill="#6a6a6a">38</text><text transform="translate(32.7 45.6) rotate(-8) scale(0.82 1)" font-size="11.5" text-anchor="end" fill="#6a6a6a">40</text><text transform="translate(53.5 350.5) rotate(-27) scale(1.22 1)" font-size="8" text-anchor="end" fill="#8c8c8c">0</text><text transform="translate(73.9 358) rotate(-27) scale(1.22 1)" font-size="8" text-anchor="end" fill="#8c8c8c">300</text><text transform="translate(94.8 365.6) rotate(-27) scale(1.22 1)" font-size="8" text-anchor="end" fill="#8c8c8c">600</text><text transform="translate(116.4 373.5) rotate(-27) scale(1.22 1)" font-size="8" text-anchor="end" fill="#8c8c8c">900</text><text transform="translate(138.5 381.6) rotate(-27) scale(1.22 1)" font-size="8" text-anchor="end" fill="#8c8c8c">1200</text><text transform="translate(161.3 389.9) rotate(-27) scale(1.22 1)" font-size="8" text-anchor="end" fill="#8c8c8c">1500</text><text transform="translate(184.7 398.5) rotate(-27) scale(1.22 1)" font-size="8" text-anchor="end" fill="#8c8c8c">1800</text><text transform="translate(208.8 407.3) rotate(-27) scale(1.22 1)" font-size="8" text-anchor="end" fill="#8c8c8c">2100</text><text transform="translate(233.6 416.3) rotate(-27) scale(1.22 1)" font-size="8" text-anchor="end" fill="#8c8c8c">2400</text><text transform="translate(259.2 425.7) rotate(-27) scale(1.22 1)" font-size="8" text-anchor="end" fill="#8c8c8c">2700</text><text transform="translate(285.5 435.3) rotate(-27) scale(1.22 1)" font-size="8" text-anchor="end" fill="#8c8c8c">3000</text><text transform="translate(298 436) rotate(-27)" font-size="4.5" text-anchor="middle" fill="#999">1</text><text transform="translate(351.9 407.2) rotate(-27)" font-size="4.5" text-anchor="middle" fill="#999">1.5</text><text transform="translate(401 381) rotate(-27)" font-size="4.5" text-anchor="middle" fill="#999">2</text><text transform="translate(446 356.9) rotate(-27)" font-size="4.5" text-anchor="middle" fill="#999">2.5</text><text transform="translate(487.3 334.9) rotate(-27)" font-size="4.5" text-anchor="middle" fill="#999">3</text></g><g font-family="'Liberation Sans',sans-serif" fill="#111" stroke="#111" stroke-width="0.25"><text transform="translate(29.8 314.3) rotate(-92.65)" font-size="17.9" textLength="99.2" lengthAdjust="spacingAndGlyphs">compressive</text><text transform="translate(25.1 211.9) rotate(-92.65)" font-size="17.6" textLength="72.4" lengthAdjust="spacingAndGlyphs">strength</text><text transform="translate(21.7 138.8) rotate(-92.65)" font-size="16.9" textLength="51.6" lengthAdjust="spacingAndGlyphs">(Mpa)</text><text transform="matrix(0.9444 0.3289 -0.53 0.85 61.6 382.8)" font-size="14" textLength="58.6" lengthAdjust="spacingAndGlyphs">specimen</text><text transform="matrix(0.9444 0.3289 -0.53 0.85 123.5 404)" font-size="14.4" textLength="23.2" lengthAdjust="spacingAndGlyphs">size</text><text transform="matrix(0.9444 0.3289 -0.53 0.85 146.8 412)" font-size="16.8" textLength="41.8" lengthAdjust="spacingAndGlyphs">(mm)</text><text stroke-width="0.15" transform="translate(377.5 409.2) rotate(-26) scale(1 0.9)" font-size="14.5" textLength="98" lengthAdjust="spacingAndGlyphs">particle size type</text></g><line x1="62.1" y1="131.3" x2="66.7" y2="279" stroke="#ff1a1a" stroke-width="2.1" stroke-dasharray="12 11.3"/><line x1="481.6" y1="251" x2="481.9" y2="265.5" stroke="#ff1a1a" stroke-width="2.8"/><path d="M67.5 279.8L291 356.6L481.5 265.5" fill="none" stroke="#000" stroke-width="1.5" stroke-dasharray="3.6 3"/><line x1="67.6" y1="212" x2="122.5" y2="312.1" stroke="#000" stroke-width="1.5"/><path d="M126.6 319.6L118.8 313L125.3 309.5z" fill="#000"/><line x1="480" y1="258.3" x2="434.3" y2="303.2" stroke="#000" stroke-width="1.5"/><path d="M428.2 309.2L432.4 299.9L437.6 305.2z" fill="#000"/><circle cx="175.3" cy="41.1" r="3.8" fill="url(#b)"/><circle cx="121.2" cy="80.9" r="3.8" fill="url(#b)"/><circle cx="186.2" cy="90.8" r="3.4" fill="url(#b)"/><circle cx="196.5" cy="106" r="3.43" fill="url(#b)"/><circle cx="63" cy="129.9" r="3.6" fill="url(#b)"/><circle cx="75" cy="157.4" r="3.66" fill="url(#b)"/><circle cx="86" cy="176.2" r="3.69" fill="url(#b)"/><circle cx="97.4" cy="206.1" r="3.75" fill="url(#b)"/><circle cx="144.7" cy="162.4" r="2.4" fill="url(#b)"/><circle cx="156" cy="181.4" r="3.66" fill="url(#b)"/><circle cx="176.5" cy="185.1" r="3.66" fill="url(#b)"/><circle cx="167" cy="199.2" r="2.6" fill="url(#b)"/><circle cx="247.3" cy="127.6" r="2.3" fill="url(#b)"/><circle cx="208" cy="150.9" r="3.54" fill="url(#b)"/><circle cx="218.8" cy="159.5" r="3.55" fill="url(#b)"/><circle cx="272.2" cy="68.3" r="3.2" fill="url(#b)"/><circle cx="282.4" cy="76.2" r="3.26" fill="url(#b)"/><circle cx="292.9" cy="73.9" r="3.27" fill="url(#b)"/><circle cx="302.8" cy="113.1" r="3.35" fill="url(#b)"/><circle cx="313.3" cy="132" r="3.41" fill="url(#b)"/><circle cx="334" cy="157" r="3.5" fill="url(#b)"/><circle cx="355.9" cy="154.3" r="3.55" fill="url(#b)"/><circle cx="366.6" cy="182.7" r="3.64" fill="url(#b)"/><circle cx="377.8" cy="177.4" r="3.67" fill="url(#b)"/><circle cx="311.3" cy="188.9" r="3.62" fill="url(#b)"/><circle cx="322" cy="210.7" r="3.74" fill="url(#b)"/><circle cx="333.2" cy="212.6" r="3.75" fill="url(#b)"/><circle cx="344.7" cy="210.3" r="3.74" fill="url(#b)"/><circle cx="388.2" cy="207" r="3.76" fill="url(#b)"/><circle cx="399.6" cy="203.8" r="3.79" fill="url(#b)"/><circle cx="411.2" cy="209.3" r="3.84" fill="url(#b)"/><circle cx="422.7" cy="215.5" r="3.88" fill="url(#b)"/><circle cx="367.9" cy="225.1" r="3.83" fill="url(#b)"/><circle cx="355.9" cy="229.7" r="3.85" fill="url(#b)"/><circle cx="320.8" cy="233.9" r="3.86" fill="url(#b)"/><circle cx="379.4" cy="240.7" r="3.95" fill="url(#b)"/><circle cx="403.5" cy="246.4" r="4.0" fill="url(#b)"/><circle cx="446.4" cy="227.7" r="3.99" fill="url(#b)"/><circle cx="415.6" cy="255.7" r="4.06" fill="url(#b)"/><circle cx="471" cy="226.4" r="4.08" fill="url(#b)"/><circle cx="483.2" cy="235.8" r="4.13" fill="url(#b)"/><circle cx="428" cy="258.7" r="4.11" fill="url(#b)"/><circle cx="440.4" cy="275.4" r="4.22" fill="url(#b)"/><circle cx="229.7" cy="182.6" r="3.62" fill="url(#b)"/><circle cx="279.2" cy="174.7" r="2.5" fill="url(#b)"/><circle cx="288.9" cy="181.8" r="3.6" fill="url(#b)"/><circle cx="299.8" cy="187.4" r="3.61" fill="url(#b)"/><circle cx="240.7" cy="199.9" r="3.68" fill="url(#b)"/><circle cx="187.9" cy="210.7" r="3.72" fill="url(#b)"/><circle cx="263" cy="218.6" r="3.74" fill="url(#b)"/><circle cx="274" cy="224.5" r="3.79" fill="url(#b)"/><circle cx="285.7" cy="232.3" r="3.84" fill="url(#b)"/><circle cx="297.1" cy="241.5" r="3.88" fill="url(#b)"/><circle cx="210.9" cy="237.2" r="3.82" fill="url(#b)"/><circle cx="222.1" cy="247.8" r="3.89" fill="url(#b)"/><circle cx="233.9" cy="243.8" r="3.86" fill="url(#b)"/><circle cx="308.6" cy="258.6" r="3.3" fill="url(#b)"/><circle cx="257.5" cy="264.3" r="3.97" fill="url(#b)"/><circle cx="245.8" cy="268.8" r="3.99" fill="url(#b)"/><circle cx="269.5" cy="275.7" r="4.05" fill="url(#b)"/><circle cx="281.7" cy="283.8" r="4.09" fill="url(#b)"/><circle cx="293.8" cy="291.8" r="4.15" fill="url(#b)"/><circle cx="201.5" cy="295" r="4.09" fill="url(#b)"/><circle cx="226" cy="302.6" r="4.13" fill="url(#b)"/><circle cx="108.6" cy="223.1" r="3.79" fill="url(#b)"/><circle cx="120.3" cy="246" r="3.85" fill="url(#b)"/><circle cx="131.3" cy="253.9" r="3.88" fill="url(#b)"/><circle cx="142.8" cy="266.4" r="3.93" fill="url(#b)"/><circle cx="154.2" cy="270.8" r="3.96" fill="url(#b)"/><circle cx="166" cy="286.2" r="4.02" fill="url(#b)"/><circle cx="177.8" cy="302.9" r="4.09" fill="url(#b)"/><circle cx="189.3" cy="307.6" r="4.12" fill="url(#b)"/><circle cx="213.6" cy="322.9" r="4.21" fill="url(#b)"/><circle cx="238.3" cy="322.4" r="4.26" fill="url(#b)"/><circle cx="251.1" cy="324.9" r="4.27" fill="url(#b)"/><circle cx="264.1" cy="336.7" r="4.36" fill="url(#b)"/><circle cx="277.3" cy="341.2" r="4.41" fill="url(#b)"/><circle cx="290.5" cy="344.6" r="4.45" fill="url(#b)"/><circle cx="357.1" cy="264.3" r="4.05" fill="url(#b)"/><circle cx="369.8" cy="267.9" r="4.1" fill="url(#b)"/><circle cx="381.8" cy="292.6" r="3.0" fill="url(#b)"/><circle cx="331.7" cy="315.9" r="4.33" fill="url(#b)"/><circle cx="394.1" cy="312" r="4.34" fill="url(#b)"/><circle cx="344.3" cy="344" r="4.43" fill="url(#b)"/><g font-family="'Liberation Serif',serif" font-weight="bold" fill="#111"><text x="93" y="276" font-size="16" text-anchor="middle">A</text><text x="464.3" y="297.5" font-size="17" text-anchor="middle">B</text><text transform="translate(68.8 312) rotate(19.6)" font-size="12.5" textLength="133" lengthAdjust="spacingAndGlyphs">strength difference in the</text><text transform="translate(63.3 330.5) rotate(19.4)" font-size="12.5" textLength="153" lengthAdjust="spacingAndGlyphs">direction of the specimen size</text><text transform="translate(316 377.5) rotate(-27)" font-size="12.5" textLength="128" lengthAdjust="spacingAndGlyphs">strength difference in the</text><text transform="translate(324.5 394) rotate(-26.5)" font-size="12.5" textLength="170" lengthAdjust="spacingAndGlyphs">direction of the particle size type</text></g><rect x="504.5" y="66.7" width="10.3" height="203.6" fill="url(#cb)"/><line x1="504.5" y1="270.3" x2="514.8" y2="270.3" stroke="#111" stroke-width="1.2"/><g font-family="'Liberation Serif',serif" font-size="9.35" fill="#444" stroke="#444"><line x1="514.8" y1="66.7" x2="520.3" y2="66.7" stroke-width="1"/><text x="524" y="69.9" stroke="none">34.95</text><line x1="514.8" y1="86.9" x2="520.3" y2="86.9" stroke-width="1"/><text x="524" y="90.1" stroke="none">33.60</text><line x1="514.8" y1="107.2" x2="520.3" y2="107.2" stroke-width="1"/><text x="524" y="110.4" stroke="none">32.25</text><line x1="514.8" y1="127.4" x2="520.3" y2="127.4" stroke-width="1"/><text x="524" y="130.6" stroke="none">30.90</text><line x1="514.8" y1="147.7" x2="520.3" y2="147.7" stroke-width="1"/><text x="524" y="150.9" stroke="none">29.55</text><line x1="514.8" y1="167.9" x2="520.3" y2="167.9" stroke-width="1"/><text x="524" y="171.1" stroke="none">28.20</text><line x1="514.8" y1="188.1" x2="520.3" y2="188.1" stroke-width="1"/><text x="524" y="191.3" stroke="none">26.85</text><line x1="514.8" y1="208.4" x2="520.3" y2="208.4" stroke-width="1"/><text x="524" y="211.6" stroke="none">25.50</text><line x1="514.8" y1="228.6" x2="520.3" y2="228.6" stroke-width="1"/><text x="524" y="231.8" stroke="none">24.15</text><line x1="514.8" y1="248.9" x2="520.3" y2="248.9" stroke-width="1"/><text x="524" y="252.1" stroke="none">22.80</text><line x1="514.8" y1="269.1" x2="520.3" y2="269.1" stroke-width="1"/><text x="524" y="272.3" stroke="none">21.45</text></g></svg></body></html>
